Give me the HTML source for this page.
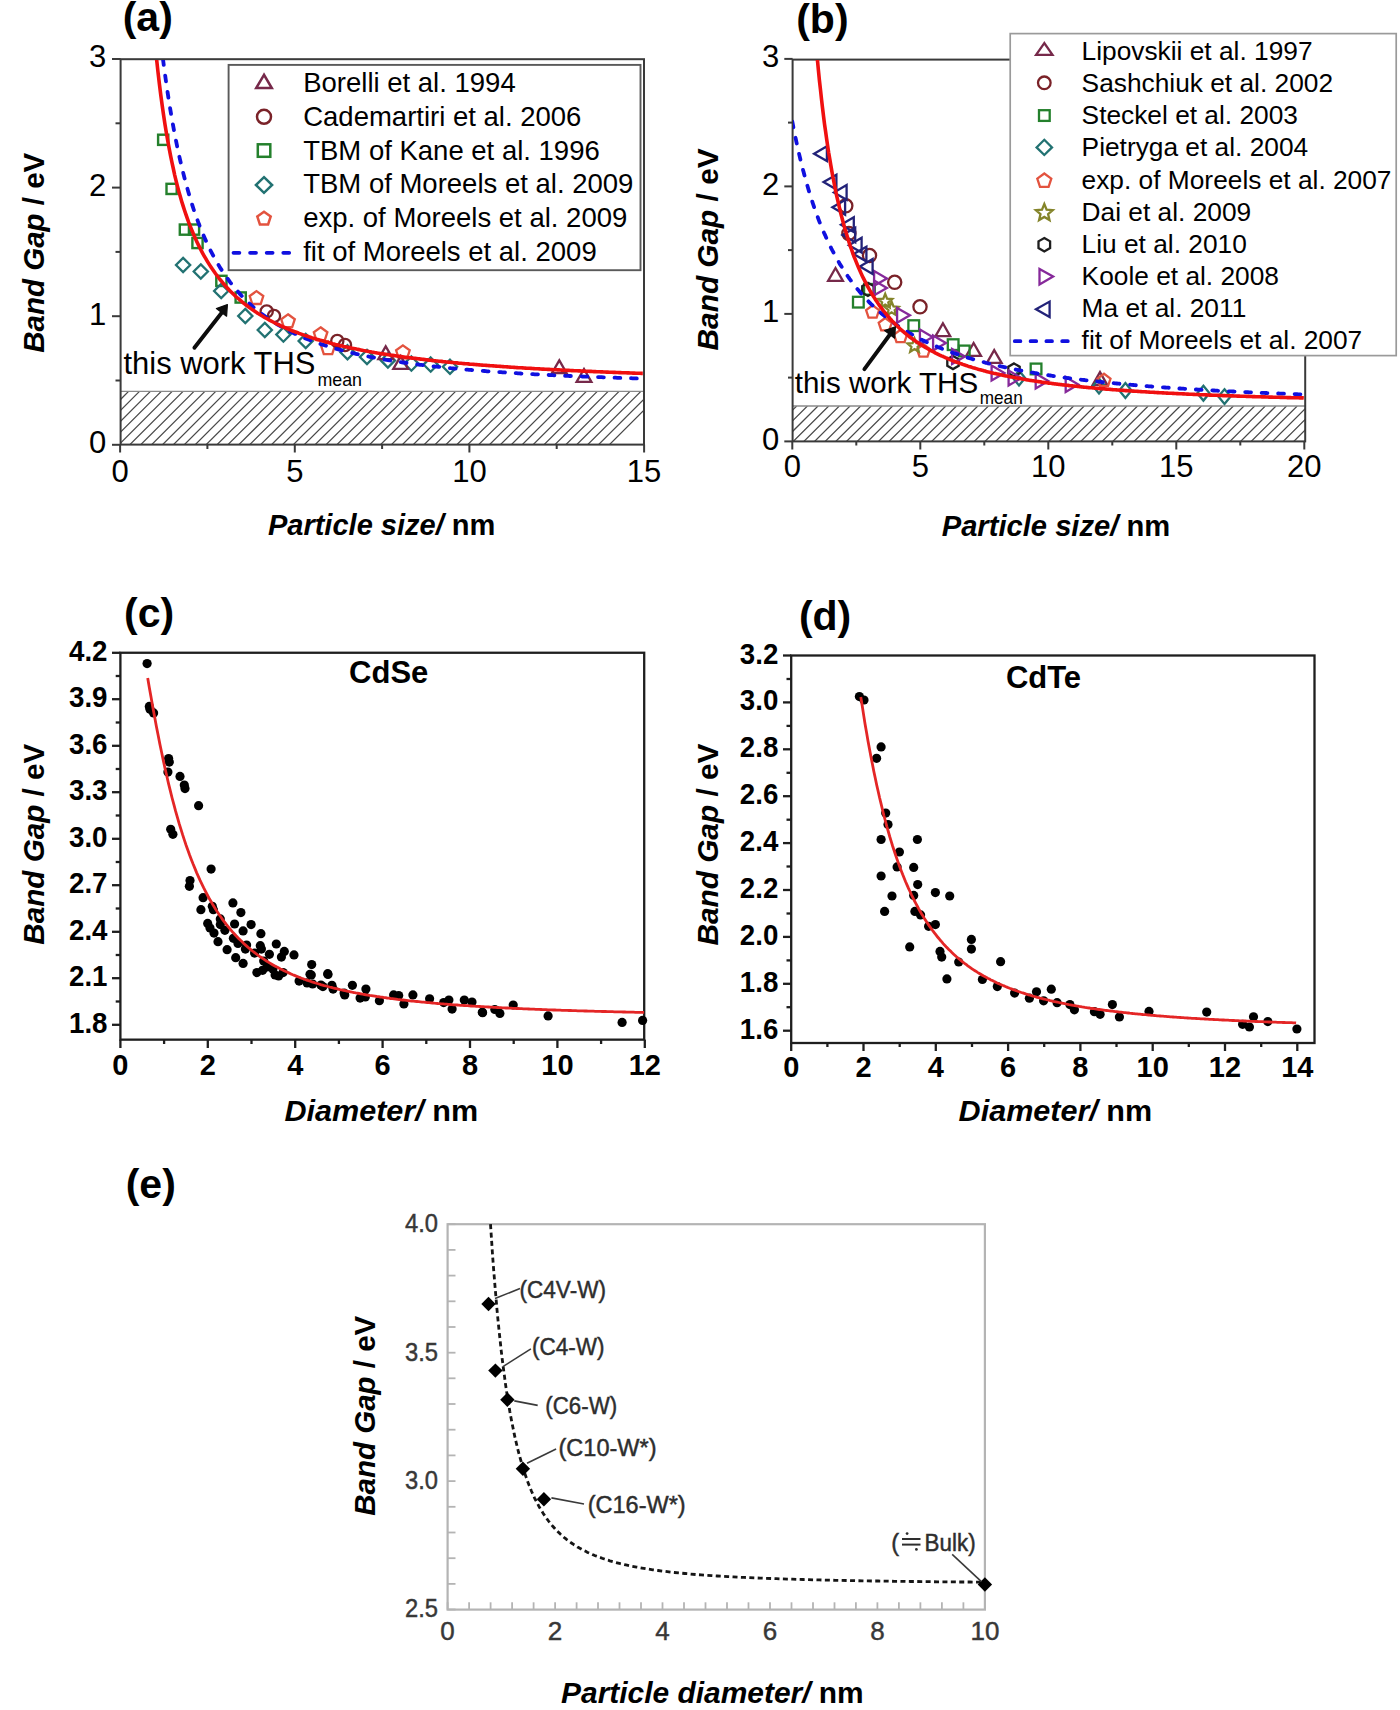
<!DOCTYPE html><html><head><meta charset="utf-8"><style>html,body{margin:0;padding:0;background:#fff;overflow:hidden;}svg{display:block;font-family:"Liberation Sans", sans-serif;}</style></head><body>
<svg width="1400" height="1710" viewBox="0 0 1400 1710">
<rect width="1400" height="1710" fill="#fff"/>
<defs><clipPath id="hA"><rect x="121" y="391.4" width="522" height="53"/></clipPath><clipPath id="hB"><rect x="793" y="406" width="512" height="35.5"/></clipPath><clipPath id="cA"><rect x="121" y="60" width="522" height="384"/></clipPath><clipPath id="cB"><rect x="793" y="60" width="512" height="381"/></clipPath></defs>
<path clip-path="url(#hA)" d="M3.2,451.4 L63.2,391.4 M14.1,451.4 L74.1,391.4 M25.0,451.4 L85.0,391.4 M35.9,451.4 L95.9,391.4 M46.8,451.4 L106.8,391.4 M57.7,451.4 L117.7,391.4 M68.6,451.4 L128.6,391.4 M79.5,451.4 L139.5,391.4 M90.4,451.4 L150.4,391.4 M101.3,451.4 L161.3,391.4 M112.2,451.4 L172.2,391.4 M123.1,451.4 L183.1,391.4 M134.0,451.4 L194.0,391.4 M144.9,451.4 L204.9,391.4 M155.8,451.4 L215.8,391.4 M166.7,451.4 L226.7,391.4 M177.6,451.4 L237.6,391.4 M188.5,451.4 L248.5,391.4 M199.4,451.4 L259.4,391.4 M210.3,451.4 L270.3,391.4 M221.2,451.4 L281.2,391.4 M232.1,451.4 L292.1,391.4 M243.0,451.4 L303.0,391.4 M253.9,451.4 L313.9,391.4 M264.8,451.4 L324.8,391.4 M275.7,451.4 L335.7,391.4 M286.6,451.4 L346.6,391.4 M297.5,451.4 L357.5,391.4 M308.4,451.4 L368.4,391.4 M319.3,451.4 L379.3,391.4 M330.2,451.4 L390.2,391.4 M341.1,451.4 L401.1,391.4 M352.0,451.4 L412.0,391.4 M362.9,451.4 L422.9,391.4 M373.8,451.4 L433.8,391.4 M384.7,451.4 L444.7,391.4 M395.6,451.4 L455.6,391.4 M406.5,451.4 L466.5,391.4 M417.4,451.4 L477.4,391.4 M428.3,451.4 L488.3,391.4 M439.2,451.4 L499.2,391.4 M450.1,451.4 L510.1,391.4 M461.0,451.4 L521.0,391.4 M471.9,451.4 L531.9,391.4 M482.8,451.4 L542.8,391.4 M493.7,451.4 L553.7,391.4 M504.6,451.4 L564.6,391.4 M515.5,451.4 L575.5,391.4 M526.4,451.4 L586.4,391.4 M537.3,451.4 L597.3,391.4 M548.2,451.4 L608.2,391.4 M559.1,451.4 L619.1,391.4 M570.0,451.4 L630.0,391.4 M580.9,451.4 L640.9,391.4 M591.8,451.4 L651.8,391.4 M602.7,451.4 L662.7,391.4" stroke="#4a4a4a" stroke-width="1.25" fill="none"/>
<line x1="120.0" y1="391.4" x2="644.0" y2="391.4" stroke="#8a8a8a" stroke-width="1.4" />
<rect x="120.6" y="59.2" width="523.4" height="385.4" fill="none" stroke="#3a3a3a" stroke-width="2"/>
<line x1="112.0" y1="444.8" x2="120.6" y2="444.8" stroke="#3a3a3a" stroke-width="2" />
<text x="106.2" y="453.2" font-size="31" text-anchor="end">0</text>
<line x1="112.0" y1="316.2" x2="120.6" y2="316.2" stroke="#3a3a3a" stroke-width="2" />
<text x="106.2" y="324.6" font-size="31" text-anchor="end">1</text>
<line x1="112.0" y1="187.6" x2="120.6" y2="187.6" stroke="#3a3a3a" stroke-width="2" />
<text x="106.2" y="196.0" font-size="31" text-anchor="end">2</text>
<line x1="112.0" y1="59.0" x2="120.6" y2="59.0" stroke="#3a3a3a" stroke-width="2" />
<text x="106.2" y="67.4" font-size="31" text-anchor="end">3</text>
<line x1="115.5" y1="380.5" x2="120.6" y2="380.5" stroke="#3a3a3a" stroke-width="2" />
<line x1="115.5" y1="251.9" x2="120.6" y2="251.9" stroke="#3a3a3a" stroke-width="2" />
<line x1="115.5" y1="123.3" x2="120.6" y2="123.3" stroke="#3a3a3a" stroke-width="2" />
<line x1="120.1" y1="444.6" x2="120.1" y2="452.5" stroke="#3a3a3a" stroke-width="2" />
<text x="120.1" y="482.4" font-size="31" text-anchor="middle">0</text>
<line x1="294.8" y1="444.6" x2="294.8" y2="452.5" stroke="#3a3a3a" stroke-width="2" />
<text x="294.8" y="482.4" font-size="31" text-anchor="middle">5</text>
<line x1="469.4" y1="444.6" x2="469.4" y2="452.5" stroke="#3a3a3a" stroke-width="2" />
<text x="469.4" y="482.4" font-size="31" text-anchor="middle">10</text>
<line x1="644.1" y1="444.6" x2="644.1" y2="452.5" stroke="#3a3a3a" stroke-width="2" />
<text x="644.1" y="482.4" font-size="31" text-anchor="middle">15</text>
<line x1="207.4" y1="444.6" x2="207.4" y2="449.0" stroke="#3a3a3a" stroke-width="2" />
<line x1="382.1" y1="444.6" x2="382.1" y2="449.0" stroke="#3a3a3a" stroke-width="2" />
<line x1="556.7" y1="444.6" x2="556.7" y2="449.0" stroke="#3a3a3a" stroke-width="2" />
<g clip-path="url(#cA)">
<rect x="158.1" y="134.7" width="10.2" height="10.2" fill="none" stroke="#24802c" stroke-width="2.4"/>
<rect x="166.5" y="183.8" width="10.2" height="10.2" fill="none" stroke="#24802c" stroke-width="2.4"/>
<rect x="179.8" y="224.5" width="10.2" height="10.2" fill="none" stroke="#24802c" stroke-width="2.4"/>
<rect x="188.9" y="224.5" width="10.2" height="10.2" fill="none" stroke="#24802c" stroke-width="2.4"/>
<rect x="192.4" y="237.9" width="10.2" height="10.2" fill="none" stroke="#24802c" stroke-width="2.4"/>
<rect x="216.3" y="275.8" width="10.2" height="10.2" fill="none" stroke="#24802c" stroke-width="2.4"/>
<rect x="235.6" y="292.4" width="10.2" height="10.2" fill="none" stroke="#24802c" stroke-width="2.4"/>
<polygon points="183.1,257.9 190.2,265.0 183.1,272.1 176.0,265.0" fill="none" stroke="#227272" stroke-width="2.3"/>
<polygon points="200.8,264.4 207.9,271.5 200.8,278.6 193.7,271.5" fill="none" stroke="#227272" stroke-width="2.3"/>
<polygon points="221.2,283.9 228.3,291.0 221.2,298.1 214.1,291.0" fill="none" stroke="#227272" stroke-width="2.3"/>
<polygon points="245.3,308.9 252.4,316.0 245.3,323.1 238.2,316.0" fill="none" stroke="#227272" stroke-width="2.3"/>
<polygon points="264.8,322.9 271.9,330.0 264.8,337.1 257.7,330.0" fill="none" stroke="#227272" stroke-width="2.3"/>
<polygon points="283.4,327.5 290.5,334.6 283.4,341.7 276.3,334.6" fill="none" stroke="#227272" stroke-width="2.3"/>
<polygon points="305.7,333.9 312.8,341.0 305.7,348.1 298.6,341.0" fill="none" stroke="#227272" stroke-width="2.3"/>
<polygon points="347.5,345.2 354.6,352.3 347.5,359.4 340.4,352.3" fill="none" stroke="#227272" stroke-width="2.3"/>
<polygon points="367.0,349.9 374.1,357.0 367.0,364.1 359.9,357.0" fill="none" stroke="#227272" stroke-width="2.3"/>
<polygon points="387.9,353.3 395.0,360.4 387.9,367.5 380.8,360.4" fill="none" stroke="#227272" stroke-width="2.3"/>
<polygon points="411.4,356.5 418.5,363.6 411.4,370.7 404.3,363.6" fill="none" stroke="#227272" stroke-width="2.3"/>
<polygon points="430.7,357.5 437.8,364.6 430.7,371.7 423.6,364.6" fill="none" stroke="#227272" stroke-width="2.3"/>
<polygon points="450.0,359.7 457.1,366.8 450.0,373.9 442.9,366.8" fill="none" stroke="#227272" stroke-width="2.3"/>
<polygon points="256.5,291.1 263.3,296.0 260.7,304.0 252.3,304.0 249.7,296.0" fill="none" stroke="#e3533f" stroke-width="2.3"/>
<polygon points="288.0,314.3 294.8,319.2 292.2,327.2 283.8,327.2 281.2,319.2" fill="none" stroke="#e3533f" stroke-width="2.3"/>
<polygon points="320.6,327.3 327.4,332.2 324.8,340.2 316.4,340.2 313.8,332.2" fill="none" stroke="#e3533f" stroke-width="2.3"/>
<polygon points="328.0,341.2 334.8,346.1 332.2,354.1 323.8,354.1 321.2,346.1" fill="none" stroke="#e3533f" stroke-width="2.3"/>
<polygon points="402.9,345.4 409.7,350.3 407.1,358.3 398.7,358.3 396.1,350.3" fill="none" stroke="#e3533f" stroke-width="2.3"/>
<circle cx="266.7" cy="311.4" r="6.1" fill="none" stroke="#7a2228" stroke-width="2.3"/>
<circle cx="274.0" cy="316.0" r="6.1" fill="none" stroke="#7a2228" stroke-width="2.3"/>
<circle cx="337.3" cy="341.0" r="6.1" fill="none" stroke="#7a2228" stroke-width="2.3"/>
<circle cx="345.0" cy="345.0" r="6.1" fill="none" stroke="#7a2228" stroke-width="2.3"/>
<polygon points="385.7,346.4 378.3,359.2 393.1,359.2" fill="none" stroke="#76294a" stroke-width="2.3"/>
<polygon points="400.7,356.1 393.3,368.9 408.1,368.9" fill="none" stroke="#76294a" stroke-width="2.3"/>
<polygon points="559.3,360.4 551.9,373.2 566.6,373.2" fill="none" stroke="#76294a" stroke-width="2.3"/>
<polygon points="584.0,369.0 576.6,381.8 591.4,381.8" fill="none" stroke="#76294a" stroke-width="2.3"/>
<polyline points="163.0,59.2 164.4,69.9 165.8,80.1 167.2,89.8 168.6,98.9 170.0,107.7 171.4,116.0 172.8,123.9 174.2,131.5 175.6,138.7 177.0,145.6 178.4,152.2 179.8,158.6 181.2,164.6 182.6,170.5 184.0,176.0 185.4,181.4 186.8,186.5 188.2,191.5 189.6,196.2 191.0,200.8 192.3,205.2 193.7,209.5 195.1,213.6 196.5,217.5 197.9,221.3 199.3,225.0 200.7,228.6 202.1,232.0 203.5,235.3 204.9,238.5 206.3,241.6 207.7,244.6 209.1,247.6 210.5,250.4 211.9,253.1 213.3,255.8 214.7,258.3 216.1,260.8 217.5,263.2 218.9,265.6 220.3,267.9 221.7,270.1 223.1,272.2 224.5,274.3 225.9,276.3 227.3,278.3 228.7,280.2 230.1,282.1 231.5,283.9 232.9,285.7 234.3,287.4 235.7,289.1 237.1,290.7 238.5,292.3 239.9,293.9 241.3,295.4 242.6,296.9 244.0,298.3 245.4,299.7 246.8,301.1 248.2,302.5 249.6,303.8 251.0,305.0 252.4,306.3 253.8,307.5 255.2,308.7 256.6,309.9 258.0,311.0 259.4,312.1 260.8,313.2 262.2,314.3 263.6,315.3 265.0,316.3 266.4,317.3 267.8,318.3 269.2,319.3 270.6,320.2 272.0,321.1 273.4,322.0 274.8,322.9 276.2,323.7 277.6,324.6 279.0,325.4 280.4,326.2 281.8,327.0 283.2,327.8 284.6,328.6 286.0,329.3 287.4,330.0 288.8,330.7 290.2,331.5 291.6,332.1 292.9,332.8 294.3,333.5 295.7,334.1 297.1,334.8 298.5,335.4 299.9,336.0 301.3,336.6 302.7,337.2 304.1,337.8 305.5,338.4 306.9,339.0 308.3,339.5 309.7,340.1 311.1,340.6 312.5,341.1 313.9,341.6 315.3,342.2 316.7,342.7 318.1,343.1 319.5,343.6 320.9,344.1 322.3,344.6 323.7,345.0 325.1,345.5 326.5,345.9 327.9,346.4 329.3,346.8 330.7,347.2 332.1,347.6 333.5,348.0 334.9,348.5 336.3,348.9 337.7,349.2 339.1,349.6 340.5,350.0 341.8,350.4 343.2,350.7 344.6,351.1 346.0,351.5 347.4,351.8 348.8,352.2 350.2,352.5 351.6,352.8 353.0,353.2 354.4,353.5 355.8,353.8 357.2,354.1 358.6,354.5 360.0,354.8 361.4,355.1 362.8,355.4 364.2,355.7 365.6,356.0 367.0,356.2 368.4,356.5 369.8,356.8 371.2,357.1 372.6,357.4 374.0,357.6 375.4,357.9 376.8,358.1 378.2,358.4 379.6,358.7 381.0,358.9 382.4,359.2 383.8,359.4 385.2,359.6 386.6,359.9 388.0,360.1 389.4,360.3 390.8,360.6 392.1,360.8 393.5,361.0 394.9,361.2 396.3,361.5 397.7,361.7 399.1,361.9 400.5,362.1 401.9,362.3 403.3,362.5 404.7,362.7 406.1,362.9 407.5,363.1 408.9,363.3 410.3,363.5 411.7,363.7 413.1,363.9 414.5,364.0 415.9,364.2 417.3,364.4 418.7,364.6 420.1,364.8 421.5,364.9 422.9,365.1 424.3,365.3 425.7,365.4 427.1,365.6 428.5,365.8 429.9,365.9 431.3,366.1 432.7,366.2 434.1,366.4 435.5,366.6 436.9,366.7 438.3,366.9 439.7,367.0 441.1,367.2 442.4,367.3 443.8,367.5 445.2,367.6 446.6,367.7 448.0,367.9 449.4,368.0 450.8,368.2 452.2,368.3 453.6,368.4 455.0,368.6 456.4,368.7 457.8,368.8 459.2,368.9 460.6,369.1 462.0,369.2 463.4,369.3 464.8,369.4 466.2,369.6 467.6,369.7 469.0,369.8 470.4,369.9 471.8,370.0 473.2,370.2 474.6,370.3 476.0,370.4 477.4,370.5 478.8,370.6 480.2,370.7 481.6,370.8 483.0,370.9 484.4,371.0 485.8,371.1 487.2,371.3 488.6,371.4 490.0,371.5 491.4,371.6 492.7,371.7 494.1,371.8 495.5,371.9 496.9,372.0 498.3,372.1 499.7,372.1 501.1,372.2 502.5,372.3 503.9,372.4 505.3,372.5 506.7,372.6 508.1,372.7 509.5,372.8 510.9,372.9 512.3,373.0 513.7,373.1 515.1,373.1 516.5,373.2 517.9,373.3 519.3,373.4 520.7,373.5 522.1,373.6 523.5,373.6 524.9,373.7 526.3,373.8 527.7,373.9 529.1,374.0 530.5,374.0 531.9,374.1 533.3,374.2 534.7,374.3 536.1,374.3 537.5,374.4 538.9,374.5 540.3,374.6 541.6,374.6 543.0,374.7 544.4,374.8 545.8,374.9 547.2,374.9 548.6,375.0 550.0,375.1 551.4,375.1 552.8,375.2 554.2,375.3 555.6,375.3 557.0,375.4 558.4,375.5 559.8,375.5 561.2,375.6 562.6,375.7 564.0,375.7 565.4,375.8 566.8,375.8 568.2,375.9 569.6,376.0 571.0,376.0 572.4,376.1 573.8,376.1 575.2,376.2 576.6,376.3 578.0,376.3 579.4,376.4 580.8,376.4 582.2,376.5 583.6,376.6 585.0,376.6 586.4,376.7 587.8,376.7 589.2,376.8 590.6,376.8 591.9,376.9 593.3,376.9 594.7,377.0 596.1,377.0 597.5,377.1 598.9,377.1 600.3,377.2 601.7,377.2 603.1,377.3 604.5,377.3 605.9,377.4 607.3,377.4 608.7,377.5 610.1,377.5 611.5,377.6 612.9,377.6 614.3,377.7 615.7,377.7 617.1,377.8 618.5,377.8 619.9,377.9 621.3,377.9 622.7,378.0 624.1,378.0 625.5,378.1 626.9,378.1 628.3,378.1 629.7,378.2 631.1,378.2 632.5,378.3 633.9,378.3 635.3,378.4 636.7,378.4 638.1,378.4 639.5,378.5 640.9,378.5 642.2,378.6 643.6,378.6" fill="none" stroke="#1010e0" stroke-width="3.8" stroke-dasharray="5.8,10.7" stroke-linecap="round"/>
<polyline points="156.6,59.2 158.0,72.1 159.4,84.0 160.8,95.2 162.2,105.6 163.6,115.3 165.0,124.4 166.4,133.0 167.8,141.0 169.2,148.6 170.6,155.8 172.0,162.6 173.4,169.0 174.7,175.1 176.1,180.9 177.5,186.4 178.9,191.6 180.3,196.6 181.7,201.4 183.1,205.9 184.5,210.3 185.9,214.4 187.3,218.4 188.7,222.3 190.1,225.9 191.5,229.4 192.9,232.8 194.3,236.1 195.7,239.2 197.1,242.2 198.5,245.1 199.9,247.9 201.3,250.7 202.7,253.3 204.1,255.8 205.5,258.2 206.9,260.6 208.3,262.9 209.7,265.1 211.1,267.2 212.5,269.3 213.9,271.3 215.3,273.3 216.7,275.2 218.1,277.0 219.5,278.8 220.9,280.5 222.3,282.2 223.6,283.8 225.0,285.4 226.4,287.0 227.8,288.5 229.2,290.0 230.6,291.4 232.0,292.8 233.4,294.1 234.8,295.5 236.2,296.8 237.6,298.0 239.0,299.2 240.4,300.4 241.8,301.6 243.2,302.8 244.6,303.9 246.0,305.0 247.4,306.0 248.8,307.1 250.2,308.1 251.6,309.1 253.0,310.1 254.4,311.0 255.8,311.9 257.2,312.9 258.6,313.8 260.0,314.6 261.4,315.5 262.8,316.3 264.2,317.2 265.6,318.0 267.0,318.7 268.4,319.5 269.8,320.3 271.2,321.0 272.6,321.8 273.9,322.5 275.3,323.2 276.7,323.9 278.1,324.5 279.5,325.2 280.9,325.9 282.3,326.5 283.7,327.1 285.1,327.7 286.5,328.4 287.9,328.9 289.3,329.5 290.7,330.1 292.1,330.7 293.5,331.2 294.9,331.8 296.3,332.3 297.7,332.8 299.1,333.4 300.5,333.9 301.9,334.4 303.3,334.9 304.7,335.4 306.1,335.8 307.5,336.3 308.9,336.8 310.3,337.2 311.7,337.7 313.1,338.1 314.5,338.6 315.9,339.0 317.3,339.4 318.7,339.8 320.1,340.2 321.5,340.6 322.9,341.0 324.2,341.4 325.6,341.8 327.0,342.2 328.4,342.6 329.8,342.9 331.2,343.3 332.6,343.7 334.0,344.0 335.4,344.4 336.8,344.7 338.2,345.1 339.6,345.4 341.0,345.7 342.4,346.0 343.8,346.4 345.2,346.7 346.6,347.0 348.0,347.3 349.4,347.6 350.8,347.9 352.2,348.2 353.6,348.5 355.0,348.8 356.4,349.1 357.8,349.4 359.2,349.6 360.6,349.9 362.0,350.2 363.4,350.5 364.8,350.7 366.2,351.0 367.6,351.2 369.0,351.5 370.4,351.7 371.8,352.0 373.2,352.2 374.5,352.5 375.9,352.7 377.3,353.0 378.7,353.2 380.1,353.4 381.5,353.7 382.9,353.9 384.3,354.1 385.7,354.3 387.1,354.5 388.5,354.8 389.9,355.0 391.3,355.2 392.7,355.4 394.1,355.6 395.5,355.8 396.9,356.0 398.3,356.2 399.7,356.4 401.1,356.6 402.5,356.8 403.9,357.0 405.3,357.2 406.7,357.4 408.1,357.5 409.5,357.7 410.9,357.9 412.3,358.1 413.7,358.3 415.1,358.4 416.5,358.6 417.9,358.8 419.3,358.9 420.7,359.1 422.1,359.3 423.4,359.4 424.8,359.6 426.2,359.8 427.6,359.9 429.0,360.1 430.4,360.2 431.8,360.4 433.2,360.6 434.6,360.7 436.0,360.9 437.4,361.0 438.8,361.2 440.2,361.3 441.6,361.4 443.0,361.6 444.4,361.7 445.8,361.9 447.2,362.0 448.6,362.1 450.0,362.3 451.4,362.4 452.8,362.5 454.2,362.7 455.6,362.8 457.0,362.9 458.4,363.1 459.8,363.2 461.2,363.3 462.6,363.5 464.0,363.6 465.4,363.7 466.8,363.8 468.2,363.9 469.6,364.1 471.0,364.2 472.4,364.3 473.7,364.4 475.1,364.5 476.5,364.6 477.9,364.8 479.3,364.9 480.7,365.0 482.1,365.1 483.5,365.2 484.9,365.3 486.3,365.4 487.7,365.5 489.1,365.6 490.5,365.7 491.9,365.8 493.3,365.9 494.7,366.0 496.1,366.1 497.5,366.2 498.9,366.3 500.3,366.4 501.7,366.5 503.1,366.6 504.5,366.7 505.9,366.8 507.3,366.9 508.7,367.0 510.1,367.1 511.5,367.2 512.9,367.3 514.3,367.4 515.7,367.5 517.1,367.6 518.5,367.7 519.9,367.7 521.3,367.8 522.7,367.9 524.0,368.0 525.4,368.1 526.8,368.2 528.2,368.3 529.6,368.3 531.0,368.4 532.4,368.5 533.8,368.6 535.2,368.7 536.6,368.7 538.0,368.8 539.4,368.9 540.8,369.0 542.2,369.1 543.6,369.1 545.0,369.2 546.4,369.3 547.8,369.4 549.2,369.4 550.6,369.5 552.0,369.6 553.4,369.7 554.8,369.7 556.2,369.8 557.6,369.9 559.0,369.9 560.4,370.0 561.8,370.1 563.2,370.2 564.6,370.2 566.0,370.3 567.4,370.4 568.8,370.4 570.2,370.5 571.6,370.6 572.9,370.6 574.3,370.7 575.7,370.8 577.1,370.8 578.5,370.9 579.9,370.9 581.3,371.0 582.7,371.1 584.1,371.1 585.5,371.2 586.9,371.3 588.3,371.3 589.7,371.4 591.1,371.4 592.5,371.5 593.9,371.6 595.3,371.6 596.7,371.7 598.1,371.7 599.5,371.8 600.9,371.9 602.3,371.9 603.7,372.0 605.1,372.0 606.5,372.1 607.9,372.1 609.3,372.2 610.7,372.2 612.1,372.3 613.5,372.4 614.9,372.4 616.3,372.5 617.7,372.5 619.1,372.6 620.5,372.6 621.9,372.7 623.2,372.7 624.6,372.8 626.0,372.8 627.4,372.9 628.8,372.9 630.2,373.0 631.6,373.0 633.0,373.1 634.4,373.1 635.8,373.2 637.2,373.2 638.6,373.3 640.0,373.3 641.4,373.4 642.8,373.4" fill="none" stroke="#f01010" stroke-width="3.6" />
</g>
<rect x="228.6" y="64.9" width="411.9" height="205.3" fill="#fff" stroke="#5a5a5a" stroke-width="1.9"/>
<polygon points="264.0,74.8 256.2,88.0 271.8,88.0" fill="none" stroke="#76294a" stroke-width="2.5"/>
<text x="303.2" y="92.3" font-size="27.5">Borelli et al. 1994</text>
<circle cx="264.0" cy="116.8" r="7.0" fill="none" stroke="#7a2228" stroke-width="2.5"/>
<text x="303.2" y="126.0" font-size="27.5">Cademartiri et al. 2006</text>
<rect x="257.8" y="144.3" width="12.5" height="12.5" fill="none" stroke="#24802c" stroke-width="2.5"/>
<text x="303.2" y="159.7" font-size="27.5">TBM of Kane et al. 1996</text>
<polygon points="264.0,177.2 272.1,185.0 264.0,192.8 255.9,185.0" fill="none" stroke="#227272" stroke-width="2.5"/>
<text x="303.2" y="193.4" font-size="27.5">TBM of Moreels et al. 2009</text>
<polygon points="264.0,211.7 270.7,216.5 268.1,224.4 259.9,224.4 257.3,216.5" fill="none" stroke="#e3533f" stroke-width="2.5"/>
<text x="303.2" y="227.1" font-size="27.5">exp. of Moreels et al. 2009</text>
<line x1="233.5" y1="252.8" x2="292.0" y2="252.8" stroke="#1010e0" stroke-width="3.8" stroke-dasharray="5.9,10.7" stroke-linecap="round"/>
<text x="303.2" y="260.8" font-size="27.5">fit of Moreels et al. 2009</text>
<line x1="194.4" y1="347.7" x2="222.3" y2="312.0" stroke="#0c0c0c" stroke-width="3.9" stroke-linecap="round"/>
<polygon points="227.4,304.6 216.4,308.6 226.6,316.2" fill="#0c0c0c" stroke="#0c0c0c" stroke-width="1.2" stroke-linejoin="round"/>
<text x="123.5" y="374.2" font-size="31" textLength="192" lengthAdjust="spacingAndGlyphs">this work THS</text>
<text x="317.5" y="386.3" font-size="19" textLength="44.5" lengthAdjust="spacingAndGlyphs">mean</text>
<text x="122.7" y="31.4" font-size="41" font-weight="bold">(a)</text>
<text transform="translate(44.3,252.75) rotate(-90)" x="0" y="0" text-anchor="middle" font-size="30" font-weight="bold" fill="#000" textLength="200" lengthAdjust="spacingAndGlyphs"><tspan font-style="italic">Band Gap</tspan> / eV</text>
<text x="381.65" y="534.9" text-anchor="middle" font-size="30" font-weight="bold" fill="#000" textLength="227.5" lengthAdjust="spacingAndGlyphs"><tspan font-style="italic">Particle size/</tspan> nm</text>
<path clip-path="url(#hB)" d="M692.8,446.0 L732.8,406 M703.5,446.0 L743.5,406 M714.1,446.0 L754.1,406 M724.8,446.0 L764.8,406 M735.4,446.0 L775.4,406 M746.1,446.0 L786.1,406 M756.7,446.0 L796.7,406 M767.4,446.0 L807.4,406 M778.0,446.0 L818.0,406 M788.7,446.0 L828.7,406 M799.3,446.0 L839.3,406 M810.0,446.0 L850.0,406 M820.6,446.0 L860.6,406 M831.2,446.0 L871.2,406 M841.9,446.0 L881.9,406 M852.6,446.0 L892.6,406 M863.2,446.0 L903.2,406 M873.9,446.0 L913.9,406 M884.5,446.0 L924.5,406 M895.2,446.0 L935.2,406 M905.8,446.0 L945.8,406 M916.5,446.0 L956.5,406 M927.1,446.0 L967.1,406 M937.8,446.0 L977.8,406 M948.4,446.0 L988.4,406 M959.1,446.0 L999.1,406 M969.7,446.0 L1009.7,406 M980.4,446.0 L1020.4,406 M991.0,446.0 L1031.0,406 M1001.7,446.0 L1041.7,406 M1012.3,446.0 L1052.3,406 M1023.0,446.0 L1063.0,406 M1033.6,446.0 L1073.6,406 M1044.2,446.0 L1084.2,406 M1054.9,446.0 L1094.9,406 M1065.6,446.0 L1105.6,406 M1076.2,446.0 L1116.2,406 M1086.9,446.0 L1126.9,406 M1097.5,446.0 L1137.5,406 M1108.2,446.0 L1148.2,406 M1118.8,446.0 L1158.8,406 M1129.5,446.0 L1169.5,406 M1140.1,446.0 L1180.1,406 M1150.8,446.0 L1190.8,406 M1161.4,446.0 L1201.4,406 M1172.1,446.0 L1212.1,406 M1182.7,446.0 L1222.7,406 M1193.4,446.0 L1233.4,406 M1204.0,446.0 L1244.0,406 M1214.7,446.0 L1254.7,406 M1225.3,446.0 L1265.3,406 M1236.0,446.0 L1276.0,406 M1246.6,446.0 L1286.6,406 M1257.2,446.0 L1297.2,406 M1267.9,446.0 L1307.9,406 M1278.6,446.0 L1318.6,406 M1289.2,446.0 L1329.2,406 M1299.8,446.0 L1339.8,406" stroke="#4a4a4a" stroke-width="1.25" fill="none"/>
<line x1="792.0" y1="406.0" x2="1305.0" y2="406.0" stroke="#8a8a8a" stroke-width="1.4" />
<rect x="792.6" y="59.6" width="512.6" height="381.8" fill="none" stroke="#3a3a3a" stroke-width="2"/>
<line x1="784.3" y1="441.4" x2="792.6" y2="441.4" stroke="#3a3a3a" stroke-width="2" />
<text x="779.25" y="449.8" font-size="31" text-anchor="end">0</text>
<line x1="784.3" y1="313.9" x2="792.6" y2="313.9" stroke="#3a3a3a" stroke-width="2" />
<text x="779.25" y="322.3" font-size="31" text-anchor="end">1</text>
<line x1="784.3" y1="186.4" x2="792.6" y2="186.4" stroke="#3a3a3a" stroke-width="2" />
<text x="779.25" y="194.8" font-size="31" text-anchor="end">2</text>
<line x1="784.3" y1="58.9" x2="792.6" y2="58.9" stroke="#3a3a3a" stroke-width="2" />
<text x="779.25" y="67.3" font-size="31" text-anchor="end">3</text>
<line x1="788.0" y1="377.6" x2="792.6" y2="377.6" stroke="#3a3a3a" stroke-width="2" />
<line x1="788.0" y1="250.1" x2="792.6" y2="250.1" stroke="#3a3a3a" stroke-width="2" />
<line x1="788.0" y1="122.6" x2="792.6" y2="122.6" stroke="#3a3a3a" stroke-width="2" />
<line x1="792.3" y1="441.2" x2="792.3" y2="449.5" stroke="#3a3a3a" stroke-width="2" />
<text x="792.3" y="477" font-size="31" text-anchor="middle">0</text>
<line x1="920.3" y1="441.2" x2="920.3" y2="449.5" stroke="#3a3a3a" stroke-width="2" />
<text x="920.3" y="477" font-size="31" text-anchor="middle">5</text>
<line x1="1048.3" y1="441.2" x2="1048.3" y2="449.5" stroke="#3a3a3a" stroke-width="2" />
<text x="1048.3" y="477" font-size="31" text-anchor="middle">10</text>
<line x1="1176.3" y1="441.2" x2="1176.3" y2="449.5" stroke="#3a3a3a" stroke-width="2" />
<text x="1176.3" y="477" font-size="31" text-anchor="middle">15</text>
<line x1="1304.3" y1="441.2" x2="1304.3" y2="449.5" stroke="#3a3a3a" stroke-width="2" />
<text x="1304.3" y="477" font-size="31" text-anchor="middle">20</text>
<line x1="856.3" y1="441.2" x2="856.3" y2="445.5" stroke="#3a3a3a" stroke-width="2" />
<line x1="984.3" y1="441.2" x2="984.3" y2="445.5" stroke="#3a3a3a" stroke-width="2" />
<line x1="1112.3" y1="441.2" x2="1112.3" y2="445.5" stroke="#3a3a3a" stroke-width="2" />
<line x1="1240.3" y1="441.2" x2="1240.3" y2="445.5" stroke="#3a3a3a" stroke-width="2" />
<g clip-path="url(#cB)">
<polygon points="835.5,268.0 828.1,280.8 842.9,280.8" fill="none" stroke="#76294a" stroke-width="2.3"/>
<polygon points="942.9,323.3 935.5,336.1 950.2,336.1" fill="none" stroke="#76294a" stroke-width="2.3"/>
<polygon points="973.6,343.0 966.2,355.8 981.0,355.8" fill="none" stroke="#76294a" stroke-width="2.3"/>
<polygon points="994.2,350.1 986.9,362.9 1001.6,362.9" fill="none" stroke="#76294a" stroke-width="2.3"/>
<polygon points="1100.0,372.1 1092.7,384.9 1107.3,384.9" fill="none" stroke="#76294a" stroke-width="2.3"/>
<circle cx="845.8" cy="205.8" r="6.6" fill="none" stroke="#7a2228" stroke-width="2.3"/>
<circle cx="848.9" cy="233.4" r="6.6" fill="none" stroke="#7a2228" stroke-width="2.3"/>
<circle cx="869.5" cy="255.5" r="6.6" fill="none" stroke="#7a2228" stroke-width="2.3"/>
<circle cx="894.7" cy="282.3" r="6.6" fill="none" stroke="#7a2228" stroke-width="2.3"/>
<circle cx="920.0" cy="306.8" r="6.6" fill="none" stroke="#7a2228" stroke-width="2.3"/>
<rect x="853.0" y="296.8" width="10.7" height="10.7" fill="none" stroke="#24802c" stroke-width="2.3"/>
<rect x="864.1" y="284.0" width="10.7" height="10.7" fill="none" stroke="#24802c" stroke-width="2.3"/>
<rect x="908.4" y="320.3" width="10.7" height="10.7" fill="none" stroke="#24802c" stroke-width="2.3"/>
<rect x="947.8" y="339.3" width="10.7" height="10.7" fill="none" stroke="#24802c" stroke-width="2.3"/>
<rect x="958.9" y="345.6" width="10.7" height="10.7" fill="none" stroke="#24802c" stroke-width="2.3"/>
<rect x="1030.7" y="363.6" width="10.7" height="10.7" fill="none" stroke="#24802c" stroke-width="2.3"/>
<polygon points="1019.0,370.6 1025.1,378.0 1019.0,385.4 1012.9,378.0" fill="none" stroke="#227272" stroke-width="2.3"/>
<polygon points="1099.0,378.6 1105.1,386.0 1099.0,393.4 1092.9,386.0" fill="none" stroke="#227272" stroke-width="2.3"/>
<polygon points="1125.4,383.1 1131.5,390.5 1125.4,397.9 1119.3,390.5" fill="none" stroke="#227272" stroke-width="2.3"/>
<polygon points="1203.4,385.8 1209.5,393.2 1203.4,400.6 1197.3,393.2" fill="none" stroke="#227272" stroke-width="2.3"/>
<polygon points="1224.5,389.2 1230.6,396.6 1224.5,404.0 1218.4,396.6" fill="none" stroke="#227272" stroke-width="2.3"/>
<polygon points="872.6,305.3 879.1,310.1 876.6,317.7 868.6,317.7 866.1,310.1" fill="none" stroke="#e3533f" stroke-width="2.3"/>
<polygon points="885.2,318.0 891.7,322.8 889.2,330.4 881.2,330.4 878.7,322.8" fill="none" stroke="#e3533f" stroke-width="2.3"/>
<polygon points="900.5,329.8 907.0,334.6 904.5,342.2 896.5,342.2 894.0,334.6" fill="none" stroke="#e3533f" stroke-width="2.3"/>
<polygon points="923.5,344.3 930.0,349.1 927.5,356.7 919.5,356.7 917.0,349.1" fill="none" stroke="#e3533f" stroke-width="2.3"/>
<polygon points="1104.0,373.8 1110.5,378.6 1108.0,386.2 1100.0,386.2 1097.5,378.6" fill="none" stroke="#e3533f" stroke-width="2.3"/>
<polygon points="885.2,293.9 887.1,298.6 892.2,299.0 888.3,302.3 889.5,307.2 885.2,304.5 880.9,307.2 882.1,302.3 878.2,299.0 883.3,298.6" fill="none" stroke="#84842a" stroke-width="2.3"/>
<polygon points="891.6,301.8 893.5,306.5 898.6,306.9 894.7,310.2 895.9,315.1 891.6,312.4 887.3,315.1 888.5,310.2 884.6,306.9 889.7,306.5" fill="none" stroke="#84842a" stroke-width="2.3"/>
<polygon points="914.5,338.4 916.4,343.1 921.5,343.5 917.6,346.8 918.8,351.7 914.5,349.0 910.2,351.7 911.4,346.8 907.5,343.5 912.6,343.1" fill="none" stroke="#84842a" stroke-width="2.3"/>
<polygon points="867.9,282.8 873.6,286.1 873.6,292.7 867.9,296.0 862.2,292.7 862.2,286.1" fill="none" stroke="#1e1e1e" stroke-width="2.3"/>
<polygon points="953.0,355.9 958.7,359.2 958.7,365.8 953.0,369.1 947.3,365.8 947.3,359.2" fill="none" stroke="#1e1e1e" stroke-width="2.3"/>
<polygon points="1014.0,363.4 1019.7,366.7 1019.7,373.3 1014.0,376.6 1008.3,373.3 1008.3,366.7" fill="none" stroke="#1e1e1e" stroke-width="2.3"/>
<polygon points="886.9,278.4 874.1,271.0 874.1,285.8" fill="none" stroke="#86299a" stroke-width="2.3"/>
<polygon points="886.9,287.9 874.1,280.5 874.1,295.2" fill="none" stroke="#86299a" stroke-width="2.3"/>
<polygon points="909.9,315.3 897.1,307.9 897.1,322.7" fill="none" stroke="#86299a" stroke-width="2.3"/>
<polygon points="932.6,337.0 919.9,329.6 919.9,344.4" fill="none" stroke="#86299a" stroke-width="2.3"/>
<polygon points="945.9,343.0 933.1,335.6 933.1,350.4" fill="none" stroke="#86299a" stroke-width="2.3"/>
<polygon points="964.9,356.5 952.1,349.1 952.1,363.9" fill="none" stroke="#86299a" stroke-width="2.3"/>
<polygon points="1004.4,373.0 991.6,365.6 991.6,380.4" fill="none" stroke="#86299a" stroke-width="2.3"/>
<polygon points="1048.3,381.0 1035.7,373.6 1035.7,388.4" fill="none" stroke="#86299a" stroke-width="2.3"/>
<polygon points="1078.3,384.5 1065.7,377.1 1065.7,391.9" fill="none" stroke="#86299a" stroke-width="2.3"/>
<polygon points="1021.4,378.0 1008.6,370.6 1008.6,385.4" fill="none" stroke="#86299a" stroke-width="2.3"/>
<polygon points="814.1,153.7 826.9,146.3 826.9,161.0" fill="none" stroke="#222278" stroke-width="2.3"/>
<polygon points="823.6,182.1 836.4,174.8 836.4,189.4" fill="none" stroke="#222278" stroke-width="2.3"/>
<polygon points="833.9,192.4 846.6,185.1 846.6,199.8" fill="none" stroke="#222278" stroke-width="2.3"/>
<polygon points="832.4,207.3 845.1,200.0 845.1,214.7" fill="none" stroke="#222278" stroke-width="2.3"/>
<polygon points="841.0,224.7 853.8,217.3 853.8,232.0" fill="none" stroke="#222278" stroke-width="2.3"/>
<polygon points="842.5,235.0 855.2,227.7 855.2,242.3" fill="none" stroke="#222278" stroke-width="2.3"/>
<polygon points="848.9,245.2 861.6,237.8 861.6,252.5" fill="none" stroke="#222278" stroke-width="2.3"/>
<polygon points="859.9,266.5 872.6,259.1 872.6,273.9" fill="none" stroke="#222278" stroke-width="2.3"/>
<polygon points="853.6,254.0 866.4,246.7 866.4,261.4" fill="none" stroke="#222278" stroke-width="2.3"/>
<polyline points="792.3,121.6 793.3,126.9 794.3,132.0 795.4,137.0 796.4,141.9 797.4,146.6 798.4,151.1 799.5,155.6 800.5,159.9 801.5,164.0 802.5,168.1 803.6,172.0 804.6,175.9 805.6,179.6 806.6,183.2 807.7,186.8 808.7,190.2 809.7,193.6 810.7,196.9 811.8,200.0 812.8,203.2 813.8,206.2 814.8,209.1 815.9,212.0 816.9,214.8 817.9,217.6 818.9,220.3 819.9,222.9 821.0,225.5 822.0,228.0 823.0,230.4 824.0,232.8 825.1,235.1 826.1,237.4 827.1,239.7 828.1,241.9 829.2,244.0 830.2,246.1 831.2,248.2 832.2,250.2 833.3,252.1 834.3,254.1 835.3,256.0 836.3,257.8 837.4,259.6 838.4,261.4 839.4,263.2 840.4,264.9 841.5,266.5 842.5,268.2 843.5,269.8 844.5,271.4 845.5,273.0 846.6,274.5 847.6,276.0 848.6,277.4 849.6,278.9 850.7,280.3 851.7,281.7 852.7,283.1 853.7,284.4 854.8,285.7 855.8,287.0 856.8,288.3 857.8,289.6 858.9,290.8 859.9,292.0 860.9,293.2 861.9,294.4 863.0,295.5 864.0,296.7 865.0,297.8 866.0,298.9 867.1,300.0 868.1,301.0 869.1,302.1 870.1,303.1 871.1,304.1 872.2,305.1 873.2,306.1 874.2,307.1 875.2,308.0 876.3,308.9 877.3,309.9 878.3,310.8 879.3,311.7 880.4,312.6 881.4,313.4 882.4,314.3 883.4,315.1 884.5,316.0 885.5,316.8 886.5,317.6 887.5,318.4 888.6,319.2 889.6,319.9 890.6,320.7 891.6,321.5 892.7,322.2 893.7,322.9 894.7,323.7 895.7,324.4 896.7,325.1 897.8,325.8 898.8,326.5 899.8,327.1 900.8,327.8 901.9,328.5 902.9,329.1 903.9,329.7 904.9,330.4 906.0,331.0 907.0,331.6 908.0,332.2 909.0,332.8 910.1,333.4 911.1,334.0 912.1,334.6 913.1,335.1 914.2,335.7 915.2,336.3 916.2,336.8 917.2,337.4 918.3,337.9 919.3,338.4 920.3,338.9 921.3,339.5 922.3,340.0 923.4,340.5 924.4,341.0 925.4,341.5 926.4,342.0 927.5,342.4 928.5,342.9 929.5,343.4 930.5,343.9 931.6,344.3 932.6,344.8 933.6,345.2 934.6,345.7 935.7,346.1 936.7,346.5 937.7,347.0 938.7,347.4 939.8,347.8 940.8,348.2 941.8,348.6 942.8,349.0 943.9,349.4 944.9,349.8 945.9,350.2 946.9,350.6 947.9,351.0 949.0,351.4 950.0,351.8 951.0,352.1 952.0,352.5 953.1,352.9 954.1,353.2 955.1,353.6 956.1,353.9 957.2,354.3 958.2,354.6 959.2,355.0 960.2,355.3 961.3,355.6 962.3,356.0 963.3,356.3 964.3,356.6 965.4,356.9 966.4,357.3 967.4,357.6 968.4,357.9 969.5,358.2 970.5,358.5 971.5,358.8 972.5,359.1 973.5,359.4 974.6,359.7 975.6,360.0 976.6,360.3 977.6,360.6 978.7,360.9 979.7,361.1 980.7,361.4 981.7,361.7 982.8,362.0 983.8,362.2 984.8,362.5 985.8,362.8 986.9,363.0 987.9,363.3 988.9,363.5 989.9,363.8 991.0,364.0 992.0,364.3 993.0,364.5 994.0,364.8 995.1,365.0 996.1,365.3 997.1,365.5 998.1,365.8 999.1,366.0 1000.2,366.2 1001.2,366.5 1002.2,366.7 1003.2,366.9 1004.3,367.1 1005.3,367.4 1006.3,367.6 1007.3,367.8 1008.4,368.0 1009.4,368.2 1010.4,368.4 1011.4,368.7 1012.5,368.9 1013.5,369.1 1014.5,369.3 1015.5,369.5 1016.6,369.7 1017.6,369.9 1018.6,370.1 1019.6,370.3 1020.7,370.5 1021.7,370.7 1022.7,370.9 1023.7,371.1 1024.7,371.2 1025.8,371.4 1026.8,371.6 1027.8,371.8 1028.8,372.0 1029.9,372.2 1030.9,372.4 1031.9,372.5 1032.9,372.7 1034.0,372.9 1035.0,373.1 1036.0,373.2 1037.0,373.4 1038.1,373.6 1039.1,373.7 1040.1,373.9 1041.1,374.1 1042.2,374.2 1043.2,374.4 1044.2,374.6 1045.2,374.7 1046.3,374.9 1047.3,375.0 1048.3,375.2 1049.3,375.4 1050.3,375.5 1051.4,375.7 1052.4,375.8 1053.4,376.0 1054.4,376.1 1055.5,376.3 1056.5,376.4 1057.5,376.6 1058.5,376.7 1059.6,376.9 1060.6,377.0 1061.6,377.1 1062.6,377.3 1063.7,377.4 1064.7,377.6 1065.7,377.7 1066.7,377.8 1067.8,378.0 1068.8,378.1 1069.8,378.3 1070.8,378.4 1071.9,378.5 1072.9,378.7 1073.9,378.8 1074.9,378.9 1075.9,379.0 1077.0,379.2 1078.0,379.3 1079.0,379.4 1080.0,379.5 1081.1,379.7 1082.1,379.8 1083.1,379.9 1084.1,380.0 1085.2,380.2 1086.2,380.3 1087.2,380.4 1088.2,380.5 1089.3,380.6 1090.3,380.7 1091.3,380.9 1092.3,381.0 1093.4,381.1 1094.4,381.2 1095.4,381.3 1096.4,381.4 1097.5,381.5 1098.5,381.7 1099.5,381.8 1100.5,381.9 1101.5,382.0 1102.6,382.1 1103.6,382.2 1104.6,382.3 1105.6,382.4 1106.7,382.5 1107.7,382.6 1108.7,382.7 1109.7,382.8 1110.8,382.9 1111.8,383.0 1112.8,383.1 1113.8,383.2 1114.9,383.3 1115.9,383.4 1116.9,383.5 1117.9,383.6 1119.0,383.7 1120.0,383.8 1121.0,383.9 1122.0,384.0 1123.1,384.1 1124.1,384.2 1125.1,384.3 1126.1,384.4 1127.1,384.5 1128.2,384.6 1129.2,384.6 1130.2,384.7 1131.2,384.8 1132.3,384.9 1133.3,385.0 1134.3,385.1 1135.3,385.2 1136.4,385.3 1137.4,385.3 1138.4,385.4 1139.4,385.5 1140.5,385.6 1141.5,385.7 1142.5,385.8 1143.5,385.9 1144.6,385.9 1145.6,386.0 1146.6,386.1 1147.6,386.2 1148.7,386.3 1149.7,386.3 1150.7,386.4 1151.7,386.5 1152.7,386.6 1153.8,386.7 1154.8,386.7 1155.8,386.8 1156.8,386.9 1157.9,387.0 1158.9,387.0 1159.9,387.1 1160.9,387.2 1162.0,387.3 1163.0,387.3 1164.0,387.4 1165.0,387.5 1166.1,387.6 1167.1,387.6 1168.1,387.7 1169.1,387.8 1170.2,387.8 1171.2,387.9 1172.2,388.0 1173.2,388.0 1174.3,388.1 1175.3,388.2 1176.3,388.3 1177.3,388.3 1178.3,388.4 1179.4,388.5 1180.4,388.5 1181.4,388.6 1182.4,388.7 1183.5,388.7 1184.5,388.8 1185.5,388.9 1186.5,388.9 1187.6,389.0 1188.6,389.0 1189.6,389.1 1190.6,389.2 1191.7,389.2 1192.7,389.3 1193.7,389.4 1194.7,389.4 1195.8,389.5 1196.8,389.5 1197.8,389.6 1198.8,389.7 1199.9,389.7 1200.9,389.8 1201.9,389.8 1202.9,389.9 1203.9,390.0 1205.0,390.0 1206.0,390.1 1207.0,390.1 1208.0,390.2 1209.1,390.3 1210.1,390.3 1211.1,390.4 1212.1,390.4 1213.2,390.5 1214.2,390.5 1215.2,390.6 1216.2,390.6 1217.3,390.7 1218.3,390.8 1219.3,390.8 1220.3,390.9 1221.4,390.9 1222.4,391.0 1223.4,391.0 1224.4,391.1 1225.5,391.1 1226.5,391.2 1227.5,391.2 1228.5,391.3 1229.5,391.3 1230.6,391.4 1231.6,391.4 1232.6,391.5 1233.6,391.5 1234.7,391.6 1235.7,391.6 1236.7,391.7 1237.7,391.7 1238.8,391.8 1239.8,391.8 1240.8,391.9 1241.8,391.9 1242.9,392.0 1243.9,392.0 1244.9,392.1 1245.9,392.1 1247.0,392.2 1248.0,392.2 1249.0,392.3 1250.0,392.3 1251.1,392.4 1252.1,392.4 1253.1,392.4 1254.1,392.5 1255.1,392.5 1256.2,392.6 1257.2,392.6 1258.2,392.7 1259.2,392.7 1260.3,392.8 1261.3,392.8 1262.3,392.9 1263.3,392.9 1264.4,392.9 1265.4,393.0 1266.4,393.0 1267.4,393.1 1268.5,393.1 1269.5,393.2 1270.5,393.2 1271.5,393.2 1272.6,393.3 1273.6,393.3 1274.6,393.4 1275.6,393.4 1276.7,393.4 1277.7,393.5 1278.7,393.5 1279.7,393.6 1280.7,393.6 1281.8,393.6 1282.8,393.7 1283.8,393.7 1284.8,393.8 1285.9,393.8 1286.9,393.8 1287.9,393.9 1288.9,393.9 1290.0,394.0 1291.0,394.0 1292.0,394.0 1293.0,394.1 1294.1,394.1 1295.1,394.1 1296.1,394.2 1297.1,394.2 1298.2,394.3 1299.2,394.3 1300.2,394.3 1301.2,394.4 1302.3,394.4 1303.3,394.4 1304.3,394.5" fill="none" stroke="#1010e0" stroke-width="3.8" stroke-dasharray="5.8,10.7" stroke-linecap="round"/>
<polyline points="817.4,59.6 818.4,70.2 819.4,80.3 820.5,89.9 821.5,99.1 822.5,107.8 823.5,116.0 824.5,123.9 825.6,131.5 826.6,138.7 827.6,145.6 828.6,152.2 829.7,158.5 830.7,164.6 831.7,170.4 832.7,176.0 833.8,181.4 834.8,186.6 835.8,191.6 836.8,196.4 837.9,201.0 838.9,205.4 839.9,209.7 840.9,213.9 842.0,217.9 843.0,221.8 844.0,225.5 845.0,229.1 846.1,232.6 847.1,236.0 848.1,239.3 849.1,242.5 850.1,245.6 851.2,248.5 852.2,251.4 853.2,254.3 854.2,257.0 855.3,259.6 856.3,262.2 857.3,264.7 858.3,267.1 859.4,269.5 860.4,271.8 861.4,274.1 862.4,276.2 863.5,278.4 864.5,280.4 865.5,282.4 866.5,284.4 867.6,286.3 868.6,288.2 869.6,290.0 870.6,291.8 871.7,293.5 872.7,295.2 873.7,296.8 874.7,298.4 875.7,300.0 876.8,301.6 877.8,303.1 878.8,304.5 879.8,306.0 880.9,307.4 881.9,308.7 882.9,310.1 883.9,311.4 885.0,312.7 886.0,313.9 887.0,315.1 888.0,316.3 889.1,317.5 890.1,318.7 891.1,319.8 892.1,320.9 893.2,322.0 894.2,323.0 895.2,324.1 896.2,325.1 897.3,326.1 898.3,327.1 899.3,328.0 900.3,329.0 901.3,329.9 902.4,330.8 903.4,331.7 904.4,332.6 905.4,333.4 906.5,334.3 907.5,335.1 908.5,335.9 909.5,336.7 910.6,337.5 911.6,338.3 912.6,339.0 913.6,339.8 914.7,340.5 915.7,341.2 916.7,341.9 917.7,342.6 918.8,343.3 919.8,344.0 920.8,344.6 921.8,345.3 922.9,345.9 923.9,346.5 924.9,347.1 925.9,347.7 926.9,348.3 928.0,348.9 929.0,349.5 930.0,350.1 931.0,350.6 932.1,351.2 933.1,351.7 934.1,352.2 935.1,352.8 936.2,353.3 937.2,353.8 938.2,354.3 939.2,354.8 940.3,355.3 941.3,355.8 942.3,356.2 943.3,356.7 944.4,357.1 945.4,357.6 946.4,358.0 947.4,358.5 948.5,358.9 949.5,359.3 950.5,359.8 951.5,360.2 952.5,360.6 953.6,361.0 954.6,361.4 955.6,361.8 956.6,362.2 957.7,362.5 958.7,362.9 959.7,363.3 960.7,363.6 961.8,364.0 962.8,364.4 963.8,364.7 964.8,365.1 965.9,365.4 966.9,365.7 967.9,366.1 968.9,366.4 970.0,366.7 971.0,367.0 972.0,367.4 973.0,367.7 974.1,368.0 975.1,368.3 976.1,368.6 977.1,368.9 978.1,369.2 979.2,369.5 980.2,369.7 981.2,370.0 982.2,370.3 983.3,370.6 984.3,370.9 985.3,371.1 986.3,371.4 987.4,371.7 988.4,371.9 989.4,372.2 990.4,372.4 991.5,372.7 992.5,372.9 993.5,373.2 994.5,373.4 995.6,373.6 996.6,373.9 997.6,374.1 998.6,374.3 999.7,374.6 1000.7,374.8 1001.7,375.0 1002.7,375.2 1003.7,375.5 1004.8,375.7 1005.8,375.9 1006.8,376.1 1007.8,376.3 1008.9,376.5 1009.9,376.7 1010.9,376.9 1011.9,377.1 1013.0,377.3 1014.0,377.5 1015.0,377.7 1016.0,377.9 1017.1,378.1 1018.1,378.3 1019.1,378.4 1020.1,378.6 1021.2,378.8 1022.2,379.0 1023.2,379.2 1024.2,379.3 1025.3,379.5 1026.3,379.7 1027.3,379.9 1028.3,380.0 1029.3,380.2 1030.4,380.4 1031.4,380.5 1032.4,380.7 1033.4,380.8 1034.5,381.0 1035.5,381.2 1036.5,381.3 1037.5,381.5 1038.6,381.6 1039.6,381.8 1040.6,381.9 1041.6,382.1 1042.7,382.2 1043.7,382.4 1044.7,382.5 1045.7,382.6 1046.8,382.8 1047.8,382.9 1048.8,383.1 1049.8,383.2 1050.9,383.3 1051.9,383.5 1052.9,383.6 1053.9,383.7 1054.9,383.9 1056.0,384.0 1057.0,384.1 1058.0,384.2 1059.0,384.4 1060.1,384.5 1061.1,384.6 1062.1,384.7 1063.1,384.9 1064.2,385.0 1065.2,385.1 1066.2,385.2 1067.2,385.3 1068.3,385.4 1069.3,385.6 1070.3,385.7 1071.3,385.8 1072.4,385.9 1073.4,386.0 1074.4,386.1 1075.4,386.2 1076.5,386.3 1077.5,386.4 1078.5,386.5 1079.5,386.6 1080.5,386.8 1081.6,386.9 1082.6,387.0 1083.6,387.1 1084.6,387.2 1085.7,387.3 1086.7,387.4 1087.7,387.5 1088.7,387.6 1089.8,387.7 1090.8,387.7 1091.8,387.8 1092.8,387.9 1093.9,388.0 1094.9,388.1 1095.9,388.2 1096.9,388.3 1098.0,388.4 1099.0,388.5 1100.0,388.6 1101.0,388.7 1102.1,388.7 1103.1,388.8 1104.1,388.9 1105.1,389.0 1106.1,389.1 1107.2,389.2 1108.2,389.3 1109.2,389.3 1110.2,389.4 1111.3,389.5 1112.3,389.6 1113.3,389.7 1114.3,389.7 1115.4,389.8 1116.4,389.9 1117.4,390.0 1118.4,390.0 1119.5,390.1 1120.5,390.2 1121.5,390.3 1122.5,390.3 1123.6,390.4 1124.6,390.5 1125.6,390.6 1126.6,390.6 1127.7,390.7 1128.7,390.8 1129.7,390.9 1130.7,390.9 1131.7,391.0 1132.8,391.1 1133.8,391.1 1134.8,391.2 1135.8,391.3 1136.9,391.3 1137.9,391.4 1138.9,391.5 1139.9,391.5 1141.0,391.6 1142.0,391.7 1143.0,391.7 1144.0,391.8 1145.1,391.8 1146.1,391.9 1147.1,392.0 1148.1,392.0 1149.2,392.1 1150.2,392.2 1151.2,392.2 1152.2,392.3 1153.3,392.3 1154.3,392.4 1155.3,392.5 1156.3,392.5 1157.3,392.6 1158.4,392.6 1159.4,392.7 1160.4,392.7 1161.4,392.8 1162.5,392.9 1163.5,392.9 1164.5,393.0 1165.5,393.0 1166.6,393.1 1167.6,393.1 1168.6,393.2 1169.6,393.2 1170.7,393.3 1171.7,393.3 1172.7,393.4 1173.7,393.4 1174.8,393.5 1175.8,393.5 1176.8,393.6 1177.8,393.6 1178.9,393.7 1179.9,393.7 1180.9,393.8 1181.9,393.8 1182.9,393.9 1184.0,393.9 1185.0,394.0 1186.0,394.0 1187.0,394.1 1188.1,394.1 1189.1,394.2 1190.1,394.2 1191.1,394.3 1192.2,394.3 1193.2,394.4 1194.2,394.4 1195.2,394.5 1196.3,394.5 1197.3,394.5 1198.3,394.6 1199.3,394.6 1200.4,394.7 1201.4,394.7 1202.4,394.8 1203.4,394.8 1204.5,394.8 1205.5,394.9 1206.5,394.9 1207.5,395.0 1208.5,395.0 1209.6,395.1 1210.6,395.1 1211.6,395.1 1212.6,395.2 1213.7,395.2 1214.7,395.3 1215.7,395.3 1216.7,395.3 1217.8,395.4 1218.8,395.4 1219.8,395.5 1220.8,395.5 1221.9,395.5 1222.9,395.6 1223.9,395.6 1224.9,395.6 1226.0,395.7 1227.0,395.7 1228.0,395.8 1229.0,395.8 1230.1,395.8 1231.1,395.9 1232.1,395.9 1233.1,395.9 1234.1,396.0 1235.2,396.0 1236.2,396.0 1237.2,396.1 1238.2,396.1 1239.3,396.1 1240.3,396.2 1241.3,396.2 1242.3,396.2 1243.4,396.3 1244.4,396.3 1245.4,396.3 1246.4,396.4 1247.5,396.4 1248.5,396.4 1249.5,396.5 1250.5,396.5 1251.6,396.5 1252.6,396.6 1253.6,396.6 1254.6,396.6 1255.7,396.7 1256.7,396.7 1257.7,396.7 1258.7,396.8 1259.7,396.8 1260.8,396.8 1261.8,396.9 1262.8,396.9 1263.8,396.9 1264.9,396.9 1265.9,397.0 1266.9,397.0 1267.9,397.0 1269.0,397.1 1270.0,397.1 1271.0,397.1 1272.0,397.1 1273.1,397.2 1274.1,397.2 1275.1,397.2 1276.1,397.3 1277.2,397.3 1278.2,397.3 1279.2,397.3 1280.2,397.4 1281.3,397.4 1282.3,397.4 1283.3,397.5 1284.3,397.5 1285.3,397.5 1286.4,397.5 1287.4,397.6 1288.4,397.6 1289.4,397.6 1290.5,397.6 1291.5,397.7 1292.5,397.7 1293.5,397.7 1294.6,397.7 1295.6,397.8 1296.6,397.8 1297.6,397.8 1298.7,397.8 1299.7,397.9 1300.7,397.9 1301.7,397.9 1302.8,397.9 1303.8,398.0" fill="none" stroke="#f01010" stroke-width="3.6" />
</g>
<rect x="1010.2" y="33.6" width="386" height="322" fill="#fff" stroke="#9a9a9a" stroke-width="1.7"/>
<polygon points="1044.3,43.1 1036.1,54.9 1052.5,54.9" fill="none" stroke="#76294a" stroke-width="2.3"/>
<text x="1081.6" y="60.3" font-size="26.3">Lipovskii et al. 1997</text>
<circle cx="1044.3" cy="82.8" r="6.3" fill="none" stroke="#7a2228" stroke-width="2.3"/>
<text x="1081.6" y="92.3" font-size="26.3">Sashchiuk et al. 2002</text>
<rect x="1039.0" y="110.2" width="10.7" height="10.7" fill="none" stroke="#24802c" stroke-width="2.3"/>
<text x="1081.6" y="124.4" font-size="26.3">Steckel et al. 2003</text>
<polygon points="1044.3,139.8 1052.0,147.4 1044.3,155.0 1036.6,147.4" fill="none" stroke="#227272" stroke-width="2.3"/>
<text x="1081.6" y="156.4" font-size="26.3">Pietryga et al. 2004</text>
<polygon points="1044.3,173.5 1051.3,178.6 1048.6,186.8 1040.0,186.8 1037.3,178.6" fill="none" stroke="#e3533f" stroke-width="2.3"/>
<text x="1081.6" y="188.5" font-size="26.3">exp. of Moreels et al. 2007</text>
<polygon points="1044.3,204.0 1046.6,209.7 1052.7,210.2 1048.1,214.1 1049.5,220.0 1044.3,216.9 1039.1,220.0 1040.5,214.1 1035.9,210.2 1042.0,209.7" fill="none" stroke="#84842a" stroke-width="2.3"/>
<text x="1081.6" y="220.6" font-size="26.3">Dai et al. 2009</text>
<polygon points="1044.3,238.0 1050.1,241.3 1050.1,248.0 1044.3,251.4 1038.5,248.0 1038.5,241.3" fill="none" stroke="#1e1e1e" stroke-width="2.3"/>
<text x="1081.6" y="252.6" font-size="26.3">Liu et al. 2010</text>
<polygon points="1053.1,276.6 1039.5,268.9 1039.5,284.4" fill="none" stroke="#86299a" stroke-width="2.3"/>
<text x="1081.6" y="284.6" font-size="26.3">Koole et al. 2008</text>
<polygon points="1036.0,309.3 1049.6,301.6 1049.6,317.1" fill="none" stroke="#222278" stroke-width="2.3"/>
<text x="1081.6" y="316.7" font-size="26.3">Ma et al. 2011</text>
<line x1="1014.8" y1="341.2" x2="1068.0" y2="341.2" stroke="#1010e0" stroke-width="3.8" stroke-dasharray="5.6,10.2" stroke-linecap="round"/>
<text x="1081.6" y="348.8" font-size="26.3">fit of Moreels et al. 2007</text>
<line x1="864.4" y1="369.2" x2="890.3" y2="334.0" stroke="#0c0c0c" stroke-width="3.9" stroke-linecap="round"/>
<polygon points="895.4,326.8 884.6,330.6 894.7,338.2" fill="#0c0c0c" stroke="#0c0c0c" stroke-width="1.2" stroke-linejoin="round"/>
<text x="794.7" y="393.2" font-size="29.5" textLength="183.5" lengthAdjust="spacingAndGlyphs">this work THS</text>
<text x="979.7" y="403.8" font-size="18.5" textLength="43" lengthAdjust="spacingAndGlyphs">mean</text>
<text x="796.2" y="32.5" font-size="41" font-weight="bold">(b)</text>
<text transform="translate(717.6,249.4) rotate(-90)" x="0" y="0" text-anchor="middle" font-size="30" font-weight="bold" fill="#000" textLength="202" lengthAdjust="spacingAndGlyphs"><tspan font-style="italic">Band Gap</tspan> / eV</text>
<text x="1055.95" y="535.5" text-anchor="middle" font-size="30" font-weight="bold" fill="#000" textLength="228.5" lengthAdjust="spacingAndGlyphs"><tspan font-style="italic">Particle size/</tspan> nm</text>
<rect x="120.4" y="652.75" width="523.8" height="386.9" fill="none" stroke="#1e1e1e" stroke-width="2.3"/>
<line x1="112.0" y1="652.8" x2="120.4" y2="652.8" stroke="#1e1e1e" stroke-width="2.3" />
<text x="107.5" y="660.8" font-size="30" text-anchor="end" font-weight="bold" textLength="38.5" lengthAdjust="spacingAndGlyphs">4.2</text>
<line x1="115.7" y1="676.0" x2="120.4" y2="676.0" stroke="#1e1e1e" stroke-width="2.3" />
<line x1="112.0" y1="699.2" x2="120.4" y2="699.2" stroke="#1e1e1e" stroke-width="2.3" />
<text x="107.5" y="707.2" font-size="30" text-anchor="end" font-weight="bold" textLength="38.5" lengthAdjust="spacingAndGlyphs">3.9</text>
<line x1="115.7" y1="722.5" x2="120.4" y2="722.5" stroke="#1e1e1e" stroke-width="2.3" />
<line x1="112.0" y1="745.8" x2="120.4" y2="745.8" stroke="#1e1e1e" stroke-width="2.3" />
<text x="107.5" y="753.8" font-size="30" text-anchor="end" font-weight="bold" textLength="38.5" lengthAdjust="spacingAndGlyphs">3.6</text>
<line x1="115.7" y1="769.0" x2="120.4" y2="769.0" stroke="#1e1e1e" stroke-width="2.3" />
<line x1="112.0" y1="792.2" x2="120.4" y2="792.2" stroke="#1e1e1e" stroke-width="2.3" />
<text x="107.5" y="800.2" font-size="30" text-anchor="end" font-weight="bold" textLength="38.5" lengthAdjust="spacingAndGlyphs">3.3</text>
<line x1="115.7" y1="815.5" x2="120.4" y2="815.5" stroke="#1e1e1e" stroke-width="2.3" />
<line x1="112.0" y1="838.8" x2="120.4" y2="838.8" stroke="#1e1e1e" stroke-width="2.3" />
<text x="107.5" y="846.8" font-size="30" text-anchor="end" font-weight="bold" textLength="38.5" lengthAdjust="spacingAndGlyphs">3.0</text>
<line x1="115.7" y1="862.0" x2="120.4" y2="862.0" stroke="#1e1e1e" stroke-width="2.3" />
<line x1="112.0" y1="885.2" x2="120.4" y2="885.2" stroke="#1e1e1e" stroke-width="2.3" />
<text x="107.5" y="893.2" font-size="30" text-anchor="end" font-weight="bold" textLength="38.5" lengthAdjust="spacingAndGlyphs">2.7</text>
<line x1="115.7" y1="908.5" x2="120.4" y2="908.5" stroke="#1e1e1e" stroke-width="2.3" />
<line x1="112.0" y1="931.8" x2="120.4" y2="931.8" stroke="#1e1e1e" stroke-width="2.3" />
<text x="107.5" y="939.8" font-size="30" text-anchor="end" font-weight="bold" textLength="38.5" lengthAdjust="spacingAndGlyphs">2.4</text>
<line x1="115.7" y1="955.0" x2="120.4" y2="955.0" stroke="#1e1e1e" stroke-width="2.3" />
<line x1="112.0" y1="978.2" x2="120.4" y2="978.2" stroke="#1e1e1e" stroke-width="2.3" />
<text x="107.5" y="986.2" font-size="30" text-anchor="end" font-weight="bold" textLength="38.5" lengthAdjust="spacingAndGlyphs">2.1</text>
<line x1="115.7" y1="1001.5" x2="120.4" y2="1001.5" stroke="#1e1e1e" stroke-width="2.3" />
<line x1="112.0" y1="1024.8" x2="120.4" y2="1024.8" stroke="#1e1e1e" stroke-width="2.3" />
<text x="107.5" y="1032.8" font-size="30" text-anchor="end" font-weight="bold" textLength="38.5" lengthAdjust="spacingAndGlyphs">1.8</text>
<line x1="120.4" y1="1039.6" x2="120.4" y2="1048.0" stroke="#1e1e1e" stroke-width="2.3" />
<text x="120.4" y="1074.5" font-size="29" text-anchor="middle" font-weight="bold">0</text>
<line x1="164.1" y1="1039.6" x2="164.1" y2="1044.0" stroke="#1e1e1e" stroke-width="2.3" />
<line x1="207.8" y1="1039.6" x2="207.8" y2="1048.0" stroke="#1e1e1e" stroke-width="2.3" />
<text x="207.8" y="1074.5" font-size="29" text-anchor="middle" font-weight="bold">2</text>
<line x1="251.5" y1="1039.6" x2="251.5" y2="1044.0" stroke="#1e1e1e" stroke-width="2.3" />
<line x1="295.2" y1="1039.6" x2="295.2" y2="1048.0" stroke="#1e1e1e" stroke-width="2.3" />
<text x="295.2" y="1074.5" font-size="29" text-anchor="middle" font-weight="bold">4</text>
<line x1="338.9" y1="1039.6" x2="338.9" y2="1044.0" stroke="#1e1e1e" stroke-width="2.3" />
<line x1="382.6" y1="1039.6" x2="382.6" y2="1048.0" stroke="#1e1e1e" stroke-width="2.3" />
<text x="382.6" y="1074.5" font-size="29" text-anchor="middle" font-weight="bold">6</text>
<line x1="426.3" y1="1039.6" x2="426.3" y2="1044.0" stroke="#1e1e1e" stroke-width="2.3" />
<line x1="470.0" y1="1039.6" x2="470.0" y2="1048.0" stroke="#1e1e1e" stroke-width="2.3" />
<text x="470.0" y="1074.5" font-size="29" text-anchor="middle" font-weight="bold">8</text>
<line x1="513.7" y1="1039.6" x2="513.7" y2="1044.0" stroke="#1e1e1e" stroke-width="2.3" />
<line x1="557.4" y1="1039.6" x2="557.4" y2="1048.0" stroke="#1e1e1e" stroke-width="2.3" />
<text x="557.4" y="1074.5" font-size="29" text-anchor="middle" font-weight="bold">10</text>
<line x1="601.1" y1="1039.6" x2="601.1" y2="1044.0" stroke="#1e1e1e" stroke-width="2.3" />
<line x1="644.8" y1="1039.6" x2="644.8" y2="1048.0" stroke="#1e1e1e" stroke-width="2.3" />
<text x="644.8" y="1074.5" font-size="29" text-anchor="middle" font-weight="bold">12</text>
<circle cx="147.1" cy="663.6" r="4.6" fill="#000"/>
<circle cx="149.3" cy="706.4" r="4.6" fill="#000"/>
<circle cx="150" cy="709.3" r="4.6" fill="#000"/>
<circle cx="153.6" cy="712.9" r="4.6" fill="#000"/>
<circle cx="168.6" cy="758.6" r="4.6" fill="#000"/>
<circle cx="169.3" cy="762.1" r="4.6" fill="#000"/>
<circle cx="167.9" cy="772.1" r="4.6" fill="#000"/>
<circle cx="180" cy="776.4" r="4.6" fill="#000"/>
<circle cx="184.3" cy="785" r="4.6" fill="#000"/>
<circle cx="185" cy="788.6" r="4.6" fill="#000"/>
<circle cx="198.6" cy="805.7" r="4.6" fill="#000"/>
<circle cx="170.7" cy="829.3" r="4.6" fill="#000"/>
<circle cx="172.9" cy="834.3" r="4.6" fill="#000"/>
<circle cx="211.1" cy="869.1" r="4.6" fill="#000"/>
<circle cx="190" cy="880.6" r="4.6" fill="#000"/>
<circle cx="189.4" cy="886.3" r="4.6" fill="#000"/>
<circle cx="203.1" cy="897.7" r="4.6" fill="#000"/>
<circle cx="200.9" cy="909.7" r="4.6" fill="#000"/>
<circle cx="212.3" cy="906.3" r="4.6" fill="#000"/>
<circle cx="213.4" cy="909.7" r="4.6" fill="#000"/>
<circle cx="232.9" cy="902.9" r="4.6" fill="#000"/>
<circle cx="240.9" cy="912.6" r="4.6" fill="#000"/>
<circle cx="220.3" cy="918.9" r="4.6" fill="#000"/>
<circle cx="220.3" cy="924.6" r="4.6" fill="#000"/>
<circle cx="207.7" cy="923.4" r="4.6" fill="#000"/>
<circle cx="210" cy="928" r="4.6" fill="#000"/>
<circle cx="214" cy="933.1" r="4.6" fill="#000"/>
<circle cx="224.9" cy="930.3" r="4.6" fill="#000"/>
<circle cx="234.6" cy="924" r="4.6" fill="#000"/>
<circle cx="251.1" cy="924.6" r="4.6" fill="#000"/>
<circle cx="243.1" cy="930.9" r="4.6" fill="#000"/>
<circle cx="260.9" cy="933.7" r="4.6" fill="#000"/>
<circle cx="218" cy="941.7" r="4.6" fill="#000"/>
<circle cx="227.1" cy="949.7" r="4.6" fill="#000"/>
<circle cx="235.7" cy="957.7" r="4.6" fill="#000"/>
<circle cx="243.1" cy="963.4" r="4.6" fill="#000"/>
<circle cx="233.4" cy="938.3" r="4.6" fill="#000"/>
<circle cx="238" cy="943.4" r="4.6" fill="#000"/>
<circle cx="246.6" cy="945.1" r="4.6" fill="#000"/>
<circle cx="245.4" cy="949.1" r="4.6" fill="#000"/>
<circle cx="254.6" cy="953.1" r="4.6" fill="#000"/>
<circle cx="260.3" cy="945.7" r="4.6" fill="#000"/>
<circle cx="261.4" cy="949.1" r="4.6" fill="#000"/>
<circle cx="276.3" cy="944" r="4.6" fill="#000"/>
<circle cx="269.4" cy="954.3" r="4.6" fill="#000"/>
<circle cx="284.3" cy="951.4" r="4.6" fill="#000"/>
<circle cx="281.4" cy="957.1" r="4.6" fill="#000"/>
<circle cx="294" cy="954.9" r="4.6" fill="#000"/>
<circle cx="263.7" cy="961.1" r="4.6" fill="#000"/>
<circle cx="267.1" cy="966.9" r="4.6" fill="#000"/>
<circle cx="256.9" cy="972.6" r="4.6" fill="#000"/>
<circle cx="262.6" cy="970.3" r="4.6" fill="#000"/>
<circle cx="272.9" cy="969.1" r="4.6" fill="#000"/>
<circle cx="275.1" cy="974.9" r="4.6" fill="#000"/>
<circle cx="278.6" cy="976" r="4.6" fill="#000"/>
<circle cx="283.1" cy="972.6" r="4.6" fill="#000"/>
<circle cx="311.7" cy="964.6" r="4.6" fill="#000"/>
<circle cx="310" cy="974.3" r="4.6" fill="#000"/>
<circle cx="299.1" cy="981.1" r="4.6" fill="#000"/>
<circle cx="307.1" cy="982.9" r="4.6" fill="#000"/>
<circle cx="327.7" cy="973.7" r="4.6" fill="#000"/>
<circle cx="320.9" cy="985.1" r="4.6" fill="#000"/>
<circle cx="311.3" cy="975" r="4.6" fill="#000"/>
<circle cx="312.6" cy="984" r="4.6" fill="#000"/>
<circle cx="328" cy="974.4" r="4.6" fill="#000"/>
<circle cx="322.9" cy="986.6" r="4.6" fill="#000"/>
<circle cx="331.9" cy="985.3" r="4.6" fill="#000"/>
<circle cx="333.1" cy="989.1" r="4.6" fill="#000"/>
<circle cx="344.1" cy="993" r="4.6" fill="#000"/>
<circle cx="344.7" cy="994.9" r="4.6" fill="#000"/>
<circle cx="352.4" cy="985.3" r="4.6" fill="#000"/>
<circle cx="360.1" cy="998.1" r="4.6" fill="#000"/>
<circle cx="365.9" cy="989.1" r="4.6" fill="#000"/>
<circle cx="365.3" cy="996.9" r="4.6" fill="#000"/>
<circle cx="379.4" cy="1000.7" r="4.6" fill="#000"/>
<circle cx="393.6" cy="994.9" r="4.6" fill="#000"/>
<circle cx="398.7" cy="995.6" r="4.6" fill="#000"/>
<circle cx="403.9" cy="1003.9" r="4.6" fill="#000"/>
<circle cx="412.9" cy="994.9" r="4.6" fill="#000"/>
<circle cx="429.6" cy="998.8" r="4.6" fill="#000"/>
<circle cx="443.7" cy="1002.6" r="4.6" fill="#000"/>
<circle cx="448.9" cy="1000" r="4.6" fill="#000"/>
<circle cx="452.1" cy="1009.1" r="4.6" fill="#000"/>
<circle cx="464.3" cy="1000" r="4.6" fill="#000"/>
<circle cx="472" cy="1002" r="4.6" fill="#000"/>
<circle cx="482.3" cy="1012.3" r="4.6" fill="#000"/>
<circle cx="482.6" cy="1012.7" r="4.6" fill="#000"/>
<circle cx="494.8" cy="1009.5" r="4.6" fill="#000"/>
<circle cx="499.9" cy="1013.4" r="4.6" fill="#000"/>
<circle cx="513.2" cy="1005" r="4.6" fill="#000"/>
<circle cx="548.1" cy="1015.9" r="4.6" fill="#000"/>
<circle cx="622.1" cy="1022.4" r="4.6" fill="#000"/>
<circle cx="642.6" cy="1020.4" r="4.6" fill="#000"/>
<polyline points="147.7,678.0 149.4,688.1 151.2,698.1 152.9,707.8 154.7,717.3 156.4,726.5 158.2,735.5 159.9,744.2 161.7,752.7 163.4,760.9 165.1,768.8 166.9,776.5 168.6,783.9 170.4,791.1 172.1,798.0 173.9,804.7 175.6,811.2 177.4,817.4 179.1,823.4 180.9,829.1 182.6,834.7 184.4,840.1 186.1,845.3 187.9,850.2 189.6,855.0 191.4,859.7 193.1,864.1 194.9,868.4 196.6,872.6 198.4,876.6 200.1,880.4 201.9,884.1 203.6,887.7 205.4,891.2 207.1,894.5 208.8,897.7 210.6,900.8 212.3,903.8 214.1,906.7 215.8,909.5 217.6,912.2 219.3,914.8 221.1,917.3 222.8,919.8 224.6,922.1 226.3,924.4 228.1,926.6 229.8,928.7 231.6,930.8 233.3,932.8 235.1,934.7 236.8,936.6 238.6,938.4 240.3,940.1 242.1,941.8 243.8,943.5 245.6,945.1 247.3,946.6 249.1,948.2 250.8,949.6 252.5,951.0 254.3,952.4 256.0,953.7 257.8,955.0 259.5,956.3 261.3,957.5 263.0,958.7 264.8,959.9 266.5,961.0 268.3,962.1 270.0,963.1 271.8,964.2 273.5,965.2 275.3,966.2 277.0,967.1 278.8,968.0 280.5,968.9 282.3,969.8 284.0,970.7 285.8,971.5 287.5,972.3 289.3,973.1 291.0,973.9 292.8,974.7 294.5,975.4 296.2,976.1 298.0,976.8 299.7,977.5 301.5,978.2 303.2,978.8 305.0,979.5 306.7,980.1 308.5,980.7 310.2,981.3 312.0,981.9 313.7,982.4 315.5,983.0 317.2,983.5 319.0,984.0 320.7,984.6 322.5,985.1 324.2,985.6 326.0,986.0 327.7,986.5 329.5,987.0 331.2,987.4 333.0,987.9 334.7,988.3 336.5,988.7 338.2,989.1 339.9,989.6 341.7,990.0 343.4,990.3 345.2,990.7 346.9,991.1 348.7,991.5 350.4,991.8 352.2,992.2 353.9,992.5 355.7,992.9 357.4,993.2 359.2,993.5 360.9,993.8 362.7,994.2 364.4,994.5 366.2,994.8 367.9,995.1 369.7,995.4 371.4,995.6 373.2,995.9 374.9,996.2 376.7,996.5 378.4,996.7 380.2,997.0 381.9,997.2 383.6,997.5 385.4,997.7 387.1,998.0 388.9,998.2 390.6,998.5 392.4,998.7 394.1,998.9 395.9,999.1 397.6,999.4 399.4,999.6 401.1,999.8 402.9,1000.0 404.6,1000.2 406.4,1000.4 408.1,1000.6 409.9,1000.8 411.6,1001.0 413.4,1001.2 415.1,1001.3 416.9,1001.5 418.6,1001.7 420.4,1001.9 422.1,1002.1 423.9,1002.2 425.6,1002.4 427.3,1002.6 429.1,1002.7 430.8,1002.9 432.6,1003.0 434.3,1003.2 436.1,1003.3 437.8,1003.5 439.6,1003.6 441.3,1003.8 443.1,1003.9 444.8,1004.1 446.6,1004.2 448.3,1004.4 450.1,1004.5 451.8,1004.6 453.6,1004.8 455.3,1004.9 457.1,1005.0 458.8,1005.1 460.6,1005.3 462.3,1005.4 464.1,1005.5 465.8,1005.6 467.6,1005.7 469.3,1005.9 471.0,1006.0 472.8,1006.1 474.5,1006.2 476.3,1006.3 478.0,1006.4 479.8,1006.5 481.5,1006.6 483.3,1006.7 485.0,1006.8 486.8,1006.9 488.5,1007.0 490.3,1007.1 492.0,1007.2 493.8,1007.3 495.5,1007.4 497.3,1007.5 499.0,1007.6 500.8,1007.7 502.5,1007.8 504.3,1007.9 506.0,1008.0 507.8,1008.0 509.5,1008.1 511.3,1008.2 513.0,1008.3 514.7,1008.4 516.5,1008.5 518.2,1008.5 520.0,1008.6 521.7,1008.7 523.5,1008.8 525.2,1008.8 527.0,1008.9 528.7,1009.0 530.5,1009.1 532.2,1009.1 534.0,1009.2 535.7,1009.3 537.5,1009.4 539.2,1009.4 541.0,1009.5 542.7,1009.6 544.5,1009.6 546.2,1009.7 548.0,1009.8 549.7,1009.8 551.5,1009.9 553.2,1010.0 555.0,1010.0 556.7,1010.1 558.4,1010.1 560.2,1010.2 561.9,1010.3 563.7,1010.3 565.4,1010.4 567.2,1010.4 568.9,1010.5 570.7,1010.5 572.4,1010.6 574.2,1010.7 575.9,1010.7 577.7,1010.8 579.4,1010.8 581.2,1010.9 582.9,1010.9 584.7,1011.0 586.4,1011.0 588.2,1011.1 589.9,1011.1 591.7,1011.2 593.4,1011.2 595.2,1011.3 596.9,1011.3 598.7,1011.4 600.4,1011.4 602.1,1011.5 603.9,1011.5 605.6,1011.5 607.4,1011.6 609.1,1011.6 610.9,1011.7 612.6,1011.7 614.4,1011.8 616.1,1011.8 617.9,1011.9 619.6,1011.9 621.4,1011.9 623.1,1012.0 624.9,1012.0 626.6,1012.1 628.4,1012.1 630.1,1012.1 631.9,1012.2 633.6,1012.2 635.4,1012.3 637.1,1012.3 638.9,1012.3 640.6,1012.4 642.4,1012.4 644.1,1012.4" fill="none" stroke="#e42626" stroke-width="2.8" />
<text x="349.1" y="683.1" font-size="31" font-weight="bold">CdSe</text>
<text x="124" y="627.3" font-size="41" font-weight="bold">(c)</text>
<text transform="translate(43.9,844.2) rotate(-90)" x="0" y="0" text-anchor="middle" font-size="30" font-weight="bold" fill="#000" textLength="201" lengthAdjust="spacingAndGlyphs"><tspan font-style="italic">Band Gap</tspan> / eV</text>
<text x="381.3" y="1121.1" text-anchor="middle" font-size="30" font-weight="bold" fill="#000" textLength="193.6" lengthAdjust="spacingAndGlyphs"><tspan font-style="italic">Diameter/</tspan> nm</text>
<rect x="791.2" y="655.5" width="523.3" height="387.5" fill="none" stroke="#1e1e1e" stroke-width="2.3"/>
<line x1="783.0" y1="655.5" x2="791.2" y2="655.5" stroke="#1e1e1e" stroke-width="2.3" />
<text x="778.3" y="663.5" font-size="30" text-anchor="end" font-weight="bold" textLength="38.5" lengthAdjust="spacingAndGlyphs">3.2</text>
<line x1="786.5" y1="679.0" x2="791.2" y2="679.0" stroke="#1e1e1e" stroke-width="2.3" />
<line x1="783.0" y1="702.4" x2="791.2" y2="702.4" stroke="#1e1e1e" stroke-width="2.3" />
<text x="778.3" y="710.4" font-size="30" text-anchor="end" font-weight="bold" textLength="38.5" lengthAdjust="spacingAndGlyphs">3.0</text>
<line x1="786.5" y1="725.9" x2="791.2" y2="725.9" stroke="#1e1e1e" stroke-width="2.3" />
<line x1="783.0" y1="749.3" x2="791.2" y2="749.3" stroke="#1e1e1e" stroke-width="2.3" />
<text x="778.3" y="757.3" font-size="30" text-anchor="end" font-weight="bold" textLength="38.5" lengthAdjust="spacingAndGlyphs">2.8</text>
<line x1="786.5" y1="772.8" x2="791.2" y2="772.8" stroke="#1e1e1e" stroke-width="2.3" />
<line x1="783.0" y1="796.2" x2="791.2" y2="796.2" stroke="#1e1e1e" stroke-width="2.3" />
<text x="778.3" y="804.2" font-size="30" text-anchor="end" font-weight="bold" textLength="38.5" lengthAdjust="spacingAndGlyphs">2.6</text>
<line x1="786.5" y1="819.7" x2="791.2" y2="819.7" stroke="#1e1e1e" stroke-width="2.3" />
<line x1="783.0" y1="843.1" x2="791.2" y2="843.1" stroke="#1e1e1e" stroke-width="2.3" />
<text x="778.3" y="851.1" font-size="30" text-anchor="end" font-weight="bold" textLength="38.5" lengthAdjust="spacingAndGlyphs">2.4</text>
<line x1="786.5" y1="866.5" x2="791.2" y2="866.5" stroke="#1e1e1e" stroke-width="2.3" />
<line x1="783.0" y1="890.0" x2="791.2" y2="890.0" stroke="#1e1e1e" stroke-width="2.3" />
<text x="778.3" y="898.0" font-size="30" text-anchor="end" font-weight="bold" textLength="38.5" lengthAdjust="spacingAndGlyphs">2.2</text>
<line x1="786.5" y1="913.5" x2="791.2" y2="913.5" stroke="#1e1e1e" stroke-width="2.3" />
<line x1="783.0" y1="936.9" x2="791.2" y2="936.9" stroke="#1e1e1e" stroke-width="2.3" />
<text x="778.3" y="944.9" font-size="30" text-anchor="end" font-weight="bold" textLength="38.5" lengthAdjust="spacingAndGlyphs">2.0</text>
<line x1="786.5" y1="960.4" x2="791.2" y2="960.4" stroke="#1e1e1e" stroke-width="2.3" />
<line x1="783.0" y1="983.8" x2="791.2" y2="983.8" stroke="#1e1e1e" stroke-width="2.3" />
<text x="778.3" y="991.8" font-size="30" text-anchor="end" font-weight="bold" textLength="38.5" lengthAdjust="spacingAndGlyphs">1.8</text>
<line x1="786.5" y1="1007.2" x2="791.2" y2="1007.2" stroke="#1e1e1e" stroke-width="2.3" />
<line x1="783.0" y1="1030.7" x2="791.2" y2="1030.7" stroke="#1e1e1e" stroke-width="2.3" />
<text x="778.3" y="1038.7" font-size="30" text-anchor="end" font-weight="bold" textLength="38.5" lengthAdjust="spacingAndGlyphs">1.6</text>
<line x1="791.2" y1="1043.0" x2="791.2" y2="1051.0" stroke="#1e1e1e" stroke-width="2.3" />
<text x="791.2" y="1077" font-size="29" text-anchor="middle" font-weight="bold">0</text>
<line x1="827.4" y1="1043.0" x2="827.4" y2="1047.0" stroke="#1e1e1e" stroke-width="2.3" />
<line x1="863.5" y1="1043.0" x2="863.5" y2="1051.0" stroke="#1e1e1e" stroke-width="2.3" />
<text x="863.5" y="1077" font-size="29" text-anchor="middle" font-weight="bold">2</text>
<line x1="899.7" y1="1043.0" x2="899.7" y2="1047.0" stroke="#1e1e1e" stroke-width="2.3" />
<line x1="935.8" y1="1043.0" x2="935.8" y2="1051.0" stroke="#1e1e1e" stroke-width="2.3" />
<text x="935.8" y="1077" font-size="29" text-anchor="middle" font-weight="bold">4</text>
<line x1="972.0" y1="1043.0" x2="972.0" y2="1047.0" stroke="#1e1e1e" stroke-width="2.3" />
<line x1="1008.1" y1="1043.0" x2="1008.1" y2="1051.0" stroke="#1e1e1e" stroke-width="2.3" />
<text x="1008.1" y="1077" font-size="29" text-anchor="middle" font-weight="bold">6</text>
<line x1="1044.2" y1="1043.0" x2="1044.2" y2="1047.0" stroke="#1e1e1e" stroke-width="2.3" />
<line x1="1080.4" y1="1043.0" x2="1080.4" y2="1051.0" stroke="#1e1e1e" stroke-width="2.3" />
<text x="1080.4" y="1077" font-size="29" text-anchor="middle" font-weight="bold">8</text>
<line x1="1116.5" y1="1043.0" x2="1116.5" y2="1047.0" stroke="#1e1e1e" stroke-width="2.3" />
<line x1="1152.7" y1="1043.0" x2="1152.7" y2="1051.0" stroke="#1e1e1e" stroke-width="2.3" />
<text x="1152.7" y="1077" font-size="29" text-anchor="middle" font-weight="bold">10</text>
<line x1="1188.8" y1="1043.0" x2="1188.8" y2="1047.0" stroke="#1e1e1e" stroke-width="2.3" />
<line x1="1225.0" y1="1043.0" x2="1225.0" y2="1051.0" stroke="#1e1e1e" stroke-width="2.3" />
<text x="1225.0" y="1077" font-size="29" text-anchor="middle" font-weight="bold">12</text>
<line x1="1261.2" y1="1043.0" x2="1261.2" y2="1047.0" stroke="#1e1e1e" stroke-width="2.3" />
<line x1="1297.3" y1="1043.0" x2="1297.3" y2="1051.0" stroke="#1e1e1e" stroke-width="2.3" />
<text x="1297.3" y="1077" font-size="29" text-anchor="middle" font-weight="bold">14</text>
<circle cx="859.4" cy="696.6" r="4.6" fill="#000"/>
<circle cx="864" cy="700" r="4.6" fill="#000"/>
<circle cx="881.1" cy="746.9" r="4.6" fill="#000"/>
<circle cx="876.6" cy="758.3" r="4.6" fill="#000"/>
<circle cx="885.7" cy="813.1" r="4.6" fill="#000"/>
<circle cx="888" cy="824.6" r="4.6" fill="#000"/>
<circle cx="881.1" cy="839.5" r="4.6" fill="#000"/>
<circle cx="917.4" cy="839.5" r="4.6" fill="#000"/>
<circle cx="899.4" cy="852" r="4.6" fill="#000"/>
<circle cx="897.1" cy="866.9" r="4.6" fill="#000"/>
<circle cx="913.7" cy="867.4" r="4.6" fill="#000"/>
<circle cx="881.1" cy="876" r="4.6" fill="#000"/>
<circle cx="917.7" cy="884.6" r="4.6" fill="#000"/>
<circle cx="892" cy="896" r="4.6" fill="#000"/>
<circle cx="913.7" cy="895.4" r="4.6" fill="#000"/>
<circle cx="935.4" cy="892.6" r="4.6" fill="#000"/>
<circle cx="949.7" cy="896" r="4.6" fill="#000"/>
<circle cx="884.6" cy="911.4" r="4.6" fill="#000"/>
<circle cx="914.9" cy="911.4" r="4.6" fill="#000"/>
<circle cx="920.6" cy="914.9" r="4.6" fill="#000"/>
<circle cx="928.6" cy="926.3" r="4.6" fill="#000"/>
<circle cx="935.4" cy="924.6" r="4.6" fill="#000"/>
<circle cx="909.7" cy="946.9" r="4.6" fill="#000"/>
<circle cx="940" cy="951.4" r="4.6" fill="#000"/>
<circle cx="941.7" cy="957.1" r="4.6" fill="#000"/>
<circle cx="958.7" cy="962" r="4.6" fill="#000"/>
<circle cx="971.4" cy="939.4" r="4.6" fill="#000"/>
<circle cx="971.4" cy="949.1" r="4.6" fill="#000"/>
<circle cx="1000.6" cy="961.7" r="4.6" fill="#000"/>
<circle cx="946.9" cy="978.9" r="4.6" fill="#000"/>
<circle cx="982.4" cy="979.5" r="4.6" fill="#000"/>
<circle cx="997.3" cy="986.6" r="4.6" fill="#000"/>
<circle cx="1014.6" cy="993.1" r="4.6" fill="#000"/>
<circle cx="1029.4" cy="998.2" r="4.6" fill="#000"/>
<circle cx="1036.5" cy="991.8" r="4.6" fill="#000"/>
<circle cx="1043.6" cy="1000.8" r="4.6" fill="#000"/>
<circle cx="1051.3" cy="989.2" r="4.6" fill="#000"/>
<circle cx="1057.1" cy="1002.7" r="4.6" fill="#000"/>
<circle cx="1069.9" cy="1004.6" r="4.6" fill="#000"/>
<circle cx="1074.4" cy="1009.8" r="4.6" fill="#000"/>
<circle cx="1094.4" cy="1011.7" r="4.6" fill="#000"/>
<circle cx="1100.1" cy="1014.3" r="4.6" fill="#000"/>
<circle cx="1112.4" cy="1004.6" r="4.6" fill="#000"/>
<circle cx="1119.4" cy="1016.9" r="4.6" fill="#000"/>
<circle cx="1149" cy="1011.4" r="4.6" fill="#000"/>
<circle cx="1206.7" cy="1012.1" r="4.6" fill="#000"/>
<circle cx="1242.6" cy="1024.3" r="4.6" fill="#000"/>
<circle cx="1249.4" cy="1027" r="4.6" fill="#000"/>
<circle cx="1253.5" cy="1016.8" r="4.6" fill="#000"/>
<circle cx="1267.8" cy="1021.6" r="4.6" fill="#000"/>
<circle cx="1296.9" cy="1029" r="4.6" fill="#000"/>
<polyline points="860.8,697.0 862.3,706.3 863.7,715.4 865.1,724.2 866.6,732.7 868.0,740.9 869.5,748.9 870.9,756.6 872.4,764.1 873.8,771.3 875.3,778.3 876.7,785.0 878.2,791.5 879.6,797.8 881.1,803.9 882.5,809.8 883.9,815.5 885.4,821.0 886.8,826.3 888.3,831.5 889.7,836.5 891.2,841.3 892.6,846.0 894.1,850.5 895.5,854.8 897.0,859.1 898.4,863.1 899.8,867.1 901.3,870.9 902.7,874.6 904.2,878.2 905.6,881.7 907.1,885.1 908.5,888.4 910.0,891.5 911.4,894.6 912.9,897.6 914.3,900.5 915.8,903.3 917.2,906.0 918.6,908.6 920.1,911.2 921.5,913.7 923.0,916.1 924.4,918.4 925.9,920.7 927.3,922.9 928.8,925.1 930.2,927.2 931.7,929.2 933.1,931.2 934.6,933.1 936.0,934.9 937.4,936.8 938.9,938.5 940.3,940.3 941.8,941.9 943.2,943.6 944.7,945.2 946.1,946.7 947.6,948.2 949.0,949.7 950.5,951.1 951.9,952.5 953.4,953.9 954.8,955.2 956.2,956.5 957.7,957.7 959.1,959.0 960.6,960.2 962.0,961.4 963.5,962.5 964.9,963.6 966.4,964.7 967.8,965.8 969.3,966.8 970.7,967.8 972.1,968.8 973.6,969.8 975.0,970.7 976.5,971.7 977.9,972.6 979.4,973.5 980.8,974.3 982.3,975.2 983.7,976.0 985.2,976.8 986.6,977.6 988.1,978.4 989.5,979.1 990.9,979.9 992.4,980.6 993.8,981.3 995.3,982.0 996.7,982.7 998.2,983.4 999.6,984.0 1001.1,984.7 1002.5,985.3 1004.0,985.9 1005.4,986.5 1006.9,987.1 1008.3,987.7 1009.7,988.3 1011.2,988.8 1012.6,989.4 1014.1,989.9 1015.5,990.4 1017.0,991.0 1018.4,991.5 1019.9,992.0 1021.3,992.5 1022.8,992.9 1024.2,993.4 1025.7,993.9 1027.1,994.3 1028.5,994.8 1030.0,995.2 1031.4,995.6 1032.9,996.1 1034.3,996.5 1035.8,996.9 1037.2,997.3 1038.7,997.7 1040.1,998.1 1041.6,998.4 1043.0,998.8 1044.4,999.2 1045.9,999.5 1047.3,999.9 1048.8,1000.2 1050.2,1000.6 1051.7,1000.9 1053.1,1001.3 1054.6,1001.6 1056.0,1001.9 1057.5,1002.2 1058.9,1002.5 1060.4,1002.8 1061.8,1003.1 1063.2,1003.4 1064.7,1003.7 1066.1,1004.0 1067.6,1004.3 1069.0,1004.6 1070.5,1004.8 1071.9,1005.1 1073.4,1005.4 1074.8,1005.6 1076.3,1005.9 1077.7,1006.1 1079.2,1006.4 1080.6,1006.6 1082.0,1006.9 1083.5,1007.1 1084.9,1007.4 1086.4,1007.6 1087.8,1007.8 1089.3,1008.0 1090.7,1008.3 1092.2,1008.5 1093.6,1008.7 1095.1,1008.9 1096.5,1009.1 1098.0,1009.3 1099.4,1009.5 1100.8,1009.7 1102.3,1009.9 1103.7,1010.1 1105.2,1010.3 1106.6,1010.5 1108.1,1010.7 1109.5,1010.9 1111.0,1011.0 1112.4,1011.2 1113.9,1011.4 1115.3,1011.6 1116.7,1011.7 1118.2,1011.9 1119.6,1012.1 1121.1,1012.2 1122.5,1012.4 1124.0,1012.6 1125.4,1012.7 1126.9,1012.9 1128.3,1013.0 1129.8,1013.2 1131.2,1013.3 1132.7,1013.5 1134.1,1013.6 1135.5,1013.8 1137.0,1013.9 1138.4,1014.1 1139.9,1014.2 1141.3,1014.3 1142.8,1014.5 1144.2,1014.6 1145.7,1014.7 1147.1,1014.9 1148.6,1015.0 1150.0,1015.1 1151.5,1015.3 1152.9,1015.4 1154.3,1015.5 1155.8,1015.6 1157.2,1015.8 1158.7,1015.9 1160.1,1016.0 1161.6,1016.1 1163.0,1016.2 1164.5,1016.3 1165.9,1016.4 1167.4,1016.6 1168.8,1016.7 1170.3,1016.8 1171.7,1016.9 1173.1,1017.0 1174.6,1017.1 1176.0,1017.2 1177.5,1017.3 1178.9,1017.4 1180.4,1017.5 1181.8,1017.6 1183.3,1017.7 1184.7,1017.8 1186.2,1017.9 1187.6,1018.0 1189.0,1018.1 1190.5,1018.2 1191.9,1018.3 1193.4,1018.3 1194.8,1018.4 1196.3,1018.5 1197.7,1018.6 1199.2,1018.7 1200.6,1018.8 1202.1,1018.9 1203.5,1018.9 1205.0,1019.0 1206.4,1019.1 1207.8,1019.2 1209.3,1019.3 1210.7,1019.4 1212.2,1019.4 1213.6,1019.5 1215.1,1019.6 1216.5,1019.7 1218.0,1019.7 1219.4,1019.8 1220.9,1019.9 1222.3,1020.0 1223.8,1020.0 1225.2,1020.1 1226.6,1020.2 1228.1,1020.2 1229.5,1020.3 1231.0,1020.4 1232.4,1020.5 1233.9,1020.5 1235.3,1020.6 1236.8,1020.7 1238.2,1020.7 1239.7,1020.8 1241.1,1020.8 1242.6,1020.9 1244.0,1021.0 1245.4,1021.0 1246.9,1021.1 1248.3,1021.2 1249.8,1021.2 1251.2,1021.3 1252.7,1021.3 1254.1,1021.4 1255.6,1021.5 1257.0,1021.5 1258.5,1021.6 1259.9,1021.6 1261.3,1021.7 1262.8,1021.7 1264.2,1021.8 1265.7,1021.8 1267.1,1021.9 1268.6,1022.0 1270.0,1022.0 1271.5,1022.1 1272.9,1022.1 1274.4,1022.2 1275.8,1022.2 1277.3,1022.3 1278.7,1022.3 1280.1,1022.4 1281.6,1022.4 1283.0,1022.5 1284.5,1022.5 1285.9,1022.6 1287.4,1022.6 1288.8,1022.7 1290.3,1022.7 1291.7,1022.7 1293.2,1022.8 1294.6,1022.8 1296.1,1022.9" fill="none" stroke="#e42626" stroke-width="2.8" />
<text x="1005.9" y="688.1" font-size="31" font-weight="bold">CdTe</text>
<text x="798.9" y="630.3" font-size="41" font-weight="bold">(d)</text>
<text transform="translate(718.2,844.6) rotate(-90)" x="0" y="0" text-anchor="middle" font-size="30" font-weight="bold" fill="#000" textLength="202" lengthAdjust="spacingAndGlyphs"><tspan font-style="italic">Band Gap</tspan> / eV</text>
<text x="1055.4" y="1121" text-anchor="middle" font-size="30" font-weight="bold" fill="#000" textLength="193.6" lengthAdjust="spacingAndGlyphs"><tspan font-style="italic">Diameter/</tspan> nm</text>
<rect x="447.6" y="1224.2" width="537.3" height="385.4" fill="none" stroke="#b4b4b4" stroke-width="2.2"/>
<line x1="447.6" y1="1609.5" x2="455.5" y2="1609.5" stroke="#b4b4b4" stroke-width="1.8" />
<text x="438" y="1617.3" font-size="26" text-anchor="end" fill="#383838" textLength="33" lengthAdjust="spacingAndGlyphs" stroke="#383838" stroke-width="0.45">2.5</text>
<line x1="447.6" y1="1583.9" x2="455.5" y2="1583.9" stroke="#b4b4b4" stroke-width="1.8" />
<line x1="447.6" y1="1558.2" x2="455.5" y2="1558.2" stroke="#b4b4b4" stroke-width="1.8" />
<line x1="447.6" y1="1532.5" x2="455.5" y2="1532.5" stroke="#b4b4b4" stroke-width="1.8" />
<line x1="447.6" y1="1506.8" x2="455.5" y2="1506.8" stroke="#b4b4b4" stroke-width="1.8" />
<line x1="447.6" y1="1481.1" x2="455.5" y2="1481.1" stroke="#b4b4b4" stroke-width="1.8" />
<text x="438" y="1488.9" font-size="26" text-anchor="end" fill="#383838" textLength="33" lengthAdjust="spacingAndGlyphs" stroke="#383838" stroke-width="0.45">3.0</text>
<line x1="447.6" y1="1455.4" x2="455.5" y2="1455.4" stroke="#b4b4b4" stroke-width="1.8" />
<line x1="447.6" y1="1429.7" x2="455.5" y2="1429.7" stroke="#b4b4b4" stroke-width="1.8" />
<line x1="447.6" y1="1404.0" x2="455.5" y2="1404.0" stroke="#b4b4b4" stroke-width="1.8" />
<line x1="447.6" y1="1378.3" x2="455.5" y2="1378.3" stroke="#b4b4b4" stroke-width="1.8" />
<line x1="447.6" y1="1352.7" x2="455.5" y2="1352.7" stroke="#b4b4b4" stroke-width="1.8" />
<text x="438" y="1360.5" font-size="26" text-anchor="end" fill="#383838" textLength="33" lengthAdjust="spacingAndGlyphs" stroke="#383838" stroke-width="0.45">3.5</text>
<line x1="447.6" y1="1327.0" x2="455.5" y2="1327.0" stroke="#b4b4b4" stroke-width="1.8" />
<line x1="447.6" y1="1301.3" x2="455.5" y2="1301.3" stroke="#b4b4b4" stroke-width="1.8" />
<line x1="447.6" y1="1275.6" x2="455.5" y2="1275.6" stroke="#b4b4b4" stroke-width="1.8" />
<line x1="447.6" y1="1249.9" x2="455.5" y2="1249.9" stroke="#b4b4b4" stroke-width="1.8" />
<line x1="447.6" y1="1224.2" x2="455.5" y2="1224.2" stroke="#b4b4b4" stroke-width="1.8" />
<text x="438" y="1232.0" font-size="26" text-anchor="end" fill="#383838" textLength="33" lengthAdjust="spacingAndGlyphs" stroke="#383838" stroke-width="0.45">4.0</text>
<line x1="447.6" y1="1609.6" x2="447.6" y2="1602.3" stroke="#b4b4b4" stroke-width="1.8" />
<text x="447.6" y="1640.4" font-size="26" text-anchor="middle" fill="#383838" stroke="#383838" stroke-width="0.45">0</text>
<line x1="469.1" y1="1609.6" x2="469.1" y2="1602.3" stroke="#b4b4b4" stroke-width="1.8" />
<line x1="490.6" y1="1609.6" x2="490.6" y2="1602.3" stroke="#b4b4b4" stroke-width="1.8" />
<line x1="512.1" y1="1609.6" x2="512.1" y2="1602.3" stroke="#b4b4b4" stroke-width="1.8" />
<line x1="533.6" y1="1609.6" x2="533.6" y2="1602.3" stroke="#b4b4b4" stroke-width="1.8" />
<line x1="555.1" y1="1609.6" x2="555.1" y2="1602.3" stroke="#b4b4b4" stroke-width="1.8" />
<text x="555.1" y="1640.4" font-size="26" text-anchor="middle" fill="#383838" stroke="#383838" stroke-width="0.45">2</text>
<line x1="576.6" y1="1609.6" x2="576.6" y2="1602.3" stroke="#b4b4b4" stroke-width="1.8" />
<line x1="598.0" y1="1609.6" x2="598.0" y2="1602.3" stroke="#b4b4b4" stroke-width="1.8" />
<line x1="619.5" y1="1609.6" x2="619.5" y2="1602.3" stroke="#b4b4b4" stroke-width="1.8" />
<line x1="641.0" y1="1609.6" x2="641.0" y2="1602.3" stroke="#b4b4b4" stroke-width="1.8" />
<line x1="662.5" y1="1609.6" x2="662.5" y2="1602.3" stroke="#b4b4b4" stroke-width="1.8" />
<text x="662.5" y="1640.4" font-size="26" text-anchor="middle" fill="#383838" stroke="#383838" stroke-width="0.45">4</text>
<line x1="684.0" y1="1609.6" x2="684.0" y2="1602.3" stroke="#b4b4b4" stroke-width="1.8" />
<line x1="705.5" y1="1609.6" x2="705.5" y2="1602.3" stroke="#b4b4b4" stroke-width="1.8" />
<line x1="727.0" y1="1609.6" x2="727.0" y2="1602.3" stroke="#b4b4b4" stroke-width="1.8" />
<line x1="748.5" y1="1609.6" x2="748.5" y2="1602.3" stroke="#b4b4b4" stroke-width="1.8" />
<line x1="770.0" y1="1609.6" x2="770.0" y2="1602.3" stroke="#b4b4b4" stroke-width="1.8" />
<text x="770.0" y="1640.4" font-size="26" text-anchor="middle" fill="#383838" stroke="#383838" stroke-width="0.45">6</text>
<line x1="791.5" y1="1609.6" x2="791.5" y2="1602.3" stroke="#b4b4b4" stroke-width="1.8" />
<line x1="813.0" y1="1609.6" x2="813.0" y2="1602.3" stroke="#b4b4b4" stroke-width="1.8" />
<line x1="834.5" y1="1609.6" x2="834.5" y2="1602.3" stroke="#b4b4b4" stroke-width="1.8" />
<line x1="855.9" y1="1609.6" x2="855.9" y2="1602.3" stroke="#b4b4b4" stroke-width="1.8" />
<line x1="877.4" y1="1609.6" x2="877.4" y2="1602.3" stroke="#b4b4b4" stroke-width="1.8" />
<text x="877.4" y="1640.4" font-size="26" text-anchor="middle" fill="#383838" stroke="#383838" stroke-width="0.45">8</text>
<line x1="898.9" y1="1609.6" x2="898.9" y2="1602.3" stroke="#b4b4b4" stroke-width="1.8" />
<line x1="920.4" y1="1609.6" x2="920.4" y2="1602.3" stroke="#b4b4b4" stroke-width="1.8" />
<line x1="941.9" y1="1609.6" x2="941.9" y2="1602.3" stroke="#b4b4b4" stroke-width="1.8" />
<line x1="963.4" y1="1609.6" x2="963.4" y2="1602.3" stroke="#b4b4b4" stroke-width="1.8" />
<line x1="984.9" y1="1609.6" x2="984.9" y2="1602.3" stroke="#b4b4b4" stroke-width="1.8" />
<text x="984.9" y="1640.4" font-size="26" text-anchor="middle" fill="#383838" stroke="#383838" stroke-width="0.45">10</text>
<polyline points="490.5,1224.2 491.6,1240.5 492.6,1255.8 493.7,1270.3 494.8,1283.8 495.9,1296.7 496.9,1308.7 498.0,1320.1 499.1,1330.9 500.2,1341.0 501.2,1350.6 502.3,1359.7 503.4,1368.3 504.5,1376.4 505.5,1384.1 506.6,1391.5 507.7,1398.4 508.8,1405.0 509.8,1411.3 510.9,1417.2 512.0,1422.9 513.1,1428.3 514.1,1433.4 515.2,1438.3 516.3,1443.0 517.4,1447.5 518.4,1451.7 519.5,1455.8 520.6,1459.7 521.7,1463.4 522.7,1467.0 523.8,1470.4 524.9,1473.7 526.0,1476.8 527.0,1479.8 528.1,1482.7 529.2,1485.5 530.3,1488.1 531.3,1490.7 532.4,1493.2 533.5,1495.5 534.5,1497.8 535.6,1500.0 536.7,1502.1 537.8,1504.1 538.8,1506.1 539.9,1508.0 541.0,1509.8 542.1,1511.6 543.1,1513.3 544.2,1514.9 545.3,1516.5 546.4,1518.1 547.4,1519.5 548.5,1521.0 549.6,1522.4 550.7,1523.7 551.7,1525.0 552.8,1526.3 553.9,1527.5 555.0,1528.7 556.0,1529.8 557.1,1530.9 558.2,1532.0 559.3,1533.1 560.3,1534.1 561.4,1535.1 562.5,1536.0 563.6,1537.0 564.6,1537.9 565.7,1538.7 566.8,1539.6 567.9,1540.4 568.9,1541.2 570.0,1542.0 571.1,1542.8 572.2,1543.5 573.2,1544.2 574.3,1545.0 575.4,1545.6 576.5,1546.3 577.5,1547.0 578.6,1547.6 579.7,1548.2 580.8,1548.8 581.8,1549.4 582.9,1550.0 584.0,1550.6 585.1,1551.1 586.1,1551.6 587.2,1552.2 588.3,1552.7 589.4,1553.2 590.4,1553.6 591.5,1554.1 592.6,1554.6 593.7,1555.0 594.7,1555.5 595.8,1555.9 596.9,1556.3 598.0,1556.7 599.0,1557.2 600.1,1557.5 601.2,1557.9 602.2,1558.3 603.3,1558.7 604.4,1559.0 605.5,1559.4 606.5,1559.8 607.6,1560.1 608.7,1560.4 609.8,1560.8 615.1,1562.3 620.5,1563.7 625.9,1564.9 631.3,1566.1 636.6,1567.1 642.0,1568.1 647.4,1569.0 652.8,1569.8 658.1,1570.5 663.5,1571.2 668.9,1571.9 674.2,1572.5 679.6,1573.0 685.0,1573.5 690.4,1574.0 695.7,1574.5 701.1,1574.9 706.5,1575.3 711.9,1575.6 717.2,1576.0 722.6,1576.3 728.0,1576.6 733.4,1576.9 738.7,1577.2 744.1,1577.4 749.5,1577.7 754.8,1577.9 760.2,1578.1 765.6,1578.3 771.0,1578.5 776.3,1578.7 781.7,1578.9 787.1,1579.1 792.5,1579.2 797.8,1579.4 803.2,1579.5 808.6,1579.7 813.9,1579.8 819.3,1579.9 824.7,1580.1 830.1,1580.2 835.4,1580.3 840.8,1580.4 846.2,1580.5 851.6,1580.6 856.9,1580.7 862.3,1580.8 867.7,1580.9 873.0,1581.0 878.4,1581.0 883.8,1581.1 889.2,1581.2 894.5,1581.3 899.9,1581.3 905.3,1581.4 910.7,1581.5 916.0,1581.5 921.4,1581.6 926.8,1581.6 932.2,1581.7 937.5,1581.8 942.9,1581.8 948.3,1581.9 953.6,1581.9 959.0,1582.0 964.4,1582.0 969.8,1582.0 975.1,1582.1 980.5,1582.1 984.9,1582.2" fill="none" stroke="#151515" stroke-width="2.8" stroke-dasharray="5,3.4" />
<polygon points="488.5,1296.8 495.7,1304.0 488.5,1311.2 481.3,1304.0" fill="#000"/>
<polygon points="495.4,1363.4 502.6,1370.6 495.4,1377.8 488.2,1370.6" fill="#000"/>
<polygon points="507.4,1392.5 514.6,1399.7 507.4,1406.9 500.2,1399.7" fill="#000"/>
<polygon points="522.9,1461.5 530.1,1468.7 522.9,1475.9 515.7,1468.7" fill="#000"/>
<polygon points="543.9,1492.0 551.1,1499.2 543.9,1506.4 536.7,1499.2" fill="#000"/>
<polygon points="984.9,1577.3 992.1,1584.5 984.9,1591.7 977.7,1584.5" fill="#000"/>
<line x1="495.0" y1="1298.5" x2="520.0" y2="1288.5" stroke="#3a3a3a" stroke-width="1.6" />
<line x1="502.9" y1="1366.6" x2="530.9" y2="1348.9" stroke="#3a3a3a" stroke-width="1.6" />
<line x1="514.3" y1="1400.9" x2="537.7" y2="1405.4" stroke="#3a3a3a" stroke-width="1.6" />
<line x1="527.0" y1="1463.3" x2="556.1" y2="1449.0" stroke="#3a3a3a" stroke-width="1.6" />
<line x1="551.4" y1="1497.9" x2="584.0" y2="1504.0" stroke="#3a3a3a" stroke-width="1.6" />
<line x1="952.2" y1="1554.4" x2="981.4" y2="1581.7" stroke="#3a3a3a" stroke-width="1.6" />
<text x="519.5" y="1297.5" font-size="23.5" fill="#2e2e2e" textLength="86.5" lengthAdjust="spacingAndGlyphs" stroke="#2e2e2e" stroke-width="0.45">(C4V-W)</text>
<text x="532.1" y="1355.2" font-size="23.5" fill="#2e2e2e" textLength="72.5" lengthAdjust="spacingAndGlyphs" stroke="#2e2e2e" stroke-width="0.45">(C4-W)</text>
<text x="545.3" y="1413.5" font-size="23.5" fill="#2e2e2e" textLength="71.8" lengthAdjust="spacingAndGlyphs" stroke="#2e2e2e" stroke-width="0.45">(C6-W)</text>
<text x="558.5" y="1455.5" font-size="23.5" fill="#2e2e2e" textLength="98" lengthAdjust="spacingAndGlyphs" stroke="#2e2e2e" stroke-width="0.45">(C10-W*)</text>
<text x="587.7" y="1513" font-size="23.5" fill="#2e2e2e" textLength="98" lengthAdjust="spacingAndGlyphs" stroke="#2e2e2e" stroke-width="0.45">(C16-W*)</text>
<text x="891.3" y="1550.5" font-size="23.5" fill="#2e2e2e" stroke="#2e2e2e" stroke-width="0.45">(</text>
<text x="924.6" y="1550.5" font-size="23.5" fill="#2e2e2e" textLength="51" lengthAdjust="spacingAndGlyphs" stroke="#2e2e2e" stroke-width="0.45">Bulk)</text>
<line x1="902.0" y1="1539.0" x2="920.5" y2="1539.0" stroke="#2e2e2e" stroke-width="2" />
<line x1="902.0" y1="1544.6" x2="920.5" y2="1544.6" stroke="#2e2e2e" stroke-width="2" />
<circle cx="907.1" cy="1533.6" r="1.4" fill="#2e2e2e"/>
<circle cx="916.4" cy="1549.4" r="1.4" fill="#2e2e2e"/>
<text x="125.7" y="1197.9" font-size="41" font-weight="bold">(e)</text>
<text transform="translate(374.9,1415.7) rotate(-90)" x="0" y="0" text-anchor="middle" font-size="30" font-weight="bold" fill="#000" textLength="200" lengthAdjust="spacingAndGlyphs"><tspan font-style="italic">Band Gap</tspan> / eV</text>
<text x="712.4" y="1702.5" text-anchor="middle" font-size="30" font-weight="bold" fill="#000" textLength="302.6" lengthAdjust="spacingAndGlyphs"><tspan font-style="italic">Particle diameter/</tspan> nm</text>
</svg></body></html>
